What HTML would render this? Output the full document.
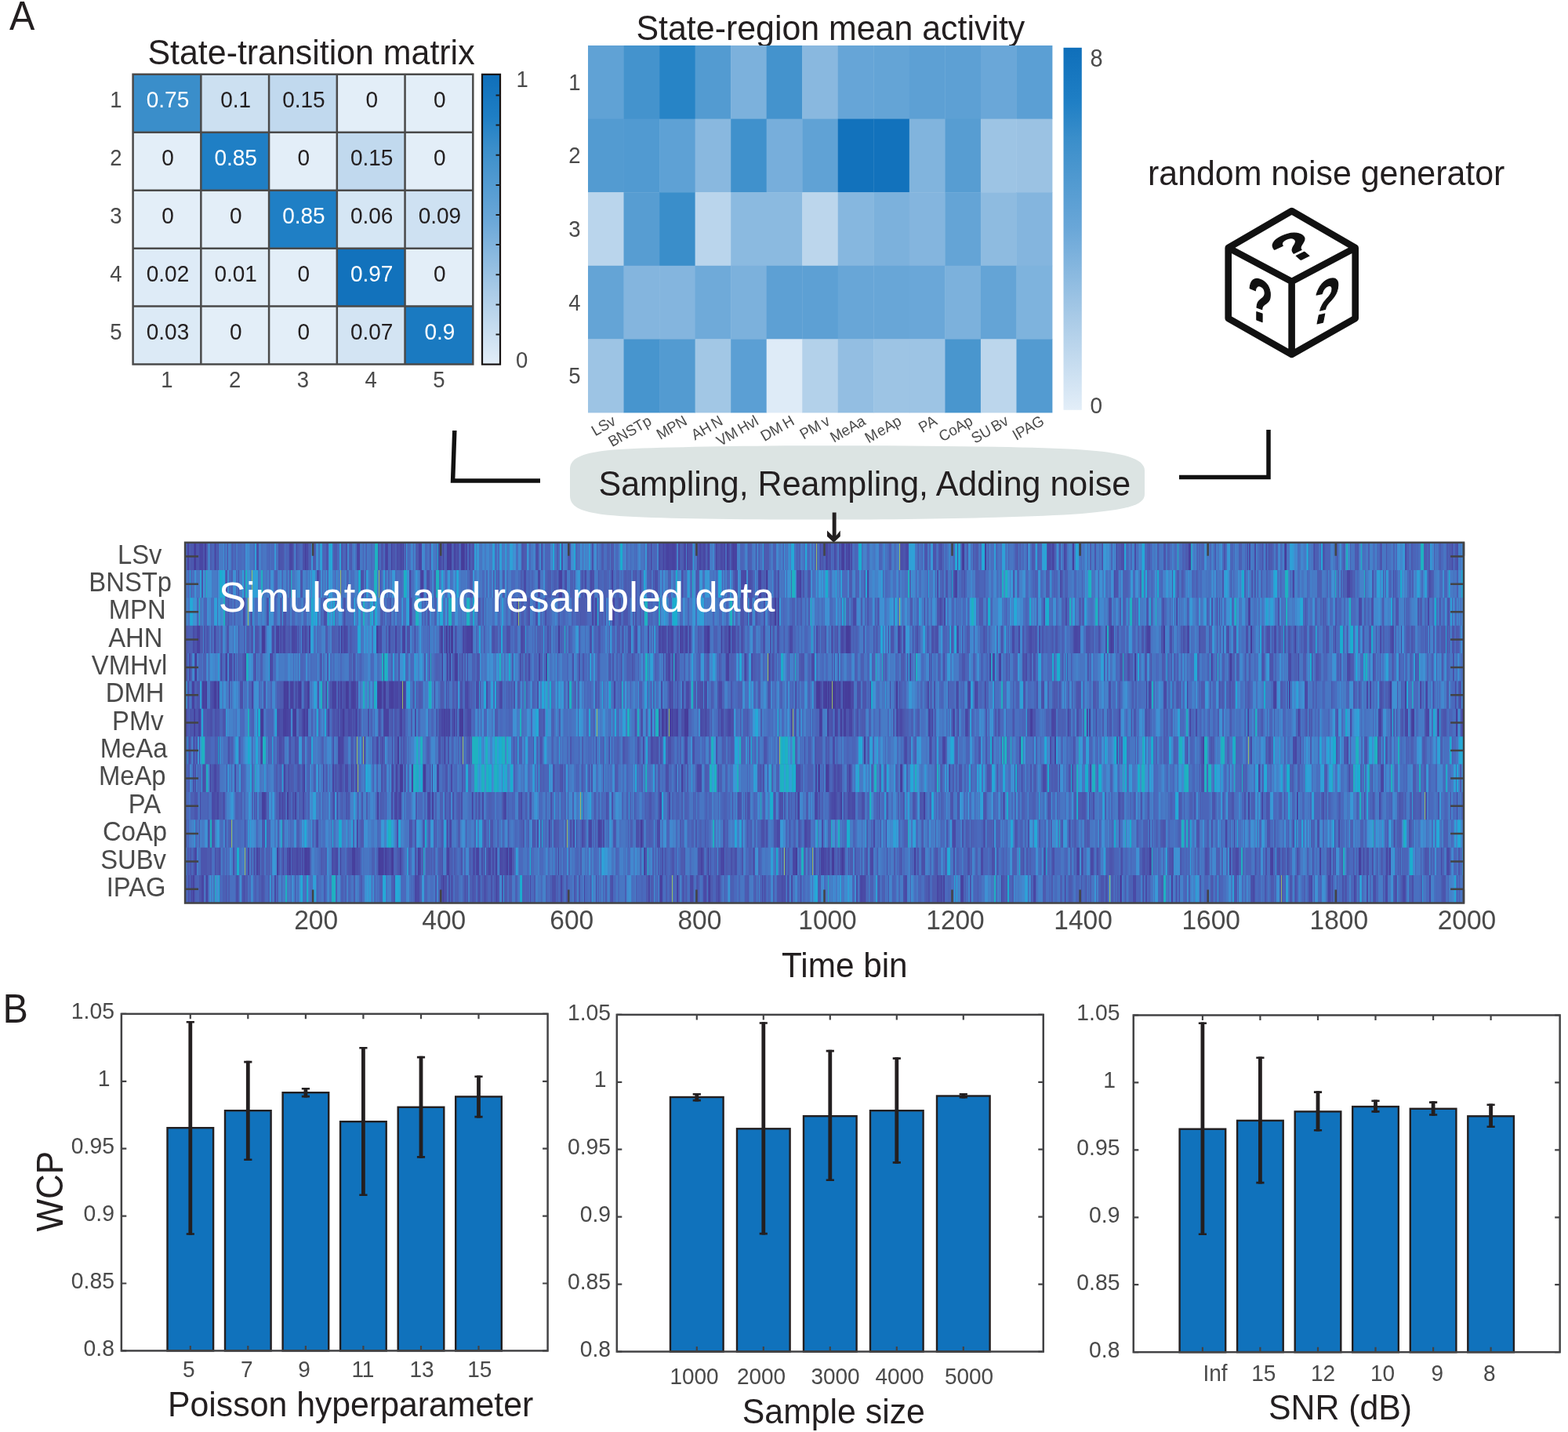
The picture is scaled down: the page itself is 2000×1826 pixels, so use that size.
<!DOCTYPE html>
<html><head><meta charset="utf-8"><title>Figure</title>
<style>html,body{margin:0;padding:0;background:#fff;width:2000px;height:1826px;overflow:hidden}svg{display:block}text{font-family:"Liberation Sans", Arial, Helvetica, sans-serif}</style>
</head><body>
<svg width="2000" height="1826" viewBox="0 0 2000 1826">
<rect width="2000" height="1826" fill="#fff"/>
<text font-size="48.5" fill="#231f20" text-anchor="start" transform="translate(12,37.8) scale(1,1.05)">A</text>
<text font-size="48.5" fill="#231f20" text-anchor="start" transform="translate(3.5,1304) scale(1,1.05)">B</text>
<text font-size="42.9" fill="#231f20" text-anchor="start" transform="translate(188.5,81.6) scale(1,1.05)">State-transition matrix</text>
<rect x="169.60" y="94.85" width="86.74" height="73.93" fill="#3a8eca"/>
<rect x="256.34" y="94.85" width="86.74" height="73.93" fill="#cce0f1"/>
<rect x="343.08" y="94.85" width="86.74" height="73.93" fill="#c1d9ee"/>
<rect x="429.82" y="94.85" width="86.74" height="73.93" fill="#e3eef8"/>
<rect x="516.56" y="94.85" width="86.74" height="73.93" fill="#e3eef8"/>
<rect x="169.60" y="168.78" width="86.74" height="73.93" fill="#e3eef8"/>
<rect x="256.34" y="168.78" width="86.74" height="73.93" fill="#1f7fc5"/>
<rect x="343.08" y="168.78" width="86.74" height="73.93" fill="#e3eef8"/>
<rect x="429.82" y="168.78" width="86.74" height="73.93" fill="#c1d9ee"/>
<rect x="516.56" y="168.78" width="86.74" height="73.93" fill="#e3eef8"/>
<rect x="169.60" y="242.71" width="86.74" height="73.93" fill="#e3eef8"/>
<rect x="256.34" y="242.71" width="86.74" height="73.93" fill="#e3eef8"/>
<rect x="343.08" y="242.71" width="86.74" height="73.93" fill="#1f7fc5"/>
<rect x="429.82" y="242.71" width="86.74" height="73.93" fill="#d5e6f4"/>
<rect x="516.56" y="242.71" width="86.74" height="73.93" fill="#cee1f2"/>
<rect x="169.60" y="316.64" width="86.74" height="73.93" fill="#deebf7"/>
<rect x="256.34" y="316.64" width="86.74" height="73.93" fill="#e1edf7"/>
<rect x="343.08" y="316.64" width="86.74" height="73.93" fill="#e3eef8"/>
<rect x="429.82" y="316.64" width="86.74" height="73.93" fill="#1272bc"/>
<rect x="516.56" y="316.64" width="86.74" height="73.93" fill="#e3eef8"/>
<rect x="169.60" y="390.57" width="86.74" height="73.93" fill="#dceaf6"/>
<rect x="256.34" y="390.57" width="86.74" height="73.93" fill="#e3eef8"/>
<rect x="343.08" y="390.57" width="86.74" height="73.93" fill="#e3eef8"/>
<rect x="429.82" y="390.57" width="86.74" height="73.93" fill="#d3e4f3"/>
<rect x="516.56" y="390.57" width="86.74" height="73.93" fill="#1a7ac1"/>
<text font-size="28" fill="#ffffff" text-anchor="middle" transform="translate(214.0,137.1) scale(1,1.05)">0.75</text>
<text font-size="28" fill="#231f20" text-anchor="middle" transform="translate(300.7,137.1) scale(1,1.05)">0.1</text>
<text font-size="28" fill="#231f20" text-anchor="middle" transform="translate(387.4,137.1) scale(1,1.05)">0.15</text>
<text font-size="28" fill="#231f20" text-anchor="middle" transform="translate(474.2,137.1) scale(1,1.05)">0</text>
<text font-size="28" fill="#231f20" text-anchor="middle" transform="translate(560.9,137.1) scale(1,1.05)">0</text>
<text font-size="28" fill="#231f20" text-anchor="middle" transform="translate(214.0,211.0) scale(1,1.05)">0</text>
<text font-size="28" fill="#ffffff" text-anchor="middle" transform="translate(300.7,211.0) scale(1,1.05)">0.85</text>
<text font-size="28" fill="#231f20" text-anchor="middle" transform="translate(387.4,211.0) scale(1,1.05)">0</text>
<text font-size="28" fill="#231f20" text-anchor="middle" transform="translate(474.2,211.0) scale(1,1.05)">0.15</text>
<text font-size="28" fill="#231f20" text-anchor="middle" transform="translate(560.9,211.0) scale(1,1.05)">0</text>
<text font-size="28" fill="#231f20" text-anchor="middle" transform="translate(214.0,285.0) scale(1,1.05)">0</text>
<text font-size="28" fill="#231f20" text-anchor="middle" transform="translate(300.7,285.0) scale(1,1.05)">0</text>
<text font-size="28" fill="#ffffff" text-anchor="middle" transform="translate(387.4,285.0) scale(1,1.05)">0.85</text>
<text font-size="28" fill="#231f20" text-anchor="middle" transform="translate(474.2,285.0) scale(1,1.05)">0.06</text>
<text font-size="28" fill="#231f20" text-anchor="middle" transform="translate(560.9,285.0) scale(1,1.05)">0.09</text>
<text font-size="28" fill="#231f20" text-anchor="middle" transform="translate(214.0,358.9) scale(1,1.05)">0.02</text>
<text font-size="28" fill="#231f20" text-anchor="middle" transform="translate(300.7,358.9) scale(1,1.05)">0.01</text>
<text font-size="28" fill="#231f20" text-anchor="middle" transform="translate(387.4,358.9) scale(1,1.05)">0</text>
<text font-size="28" fill="#ffffff" text-anchor="middle" transform="translate(474.2,358.9) scale(1,1.05)">0.97</text>
<text font-size="28" fill="#231f20" text-anchor="middle" transform="translate(560.9,358.9) scale(1,1.05)">0</text>
<text font-size="28" fill="#231f20" text-anchor="middle" transform="translate(214.0,432.8) scale(1,1.05)">0.03</text>
<text font-size="28" fill="#231f20" text-anchor="middle" transform="translate(300.7,432.8) scale(1,1.05)">0</text>
<text font-size="28" fill="#231f20" text-anchor="middle" transform="translate(387.4,432.8) scale(1,1.05)">0</text>
<text font-size="28" fill="#231f20" text-anchor="middle" transform="translate(474.2,432.8) scale(1,1.05)">0.07</text>
<text font-size="28" fill="#ffffff" text-anchor="middle" transform="translate(560.9,432.8) scale(1,1.05)">0.9</text>
<path d="M169.60 94.85V464.5M169.6 94.85H603.3M256.34 94.85V464.5M169.6 168.78H603.3M343.08 94.85V464.5M169.6 242.71H603.3M429.82 94.85V464.5M169.6 316.64H603.3M516.56 94.85V464.5M169.6 390.57H603.3M603.30 94.85V464.5M169.6 464.50H603.3" stroke="#4a4a4a" stroke-width="2.5" fill="none" stroke-linecap="square"/>
<text font-size="27.5" fill="#4a4a4a" text-anchor="middle" transform="translate(213.0,493.5) scale(1,1.05)">1</text>
<text font-size="27.5" fill="#4a4a4a" text-anchor="middle" transform="translate(148,136.8) scale(1,1.05)">1</text>
<text font-size="27.5" fill="#4a4a4a" text-anchor="middle" transform="translate(299.7,493.5) scale(1,1.05)">2</text>
<text font-size="27.5" fill="#4a4a4a" text-anchor="middle" transform="translate(148,210.7) scale(1,1.05)">2</text>
<text font-size="27.5" fill="#4a4a4a" text-anchor="middle" transform="translate(386.4,493.5) scale(1,1.05)">3</text>
<text font-size="27.5" fill="#4a4a4a" text-anchor="middle" transform="translate(148,284.7) scale(1,1.05)">3</text>
<text font-size="27.5" fill="#4a4a4a" text-anchor="middle" transform="translate(473.2,493.5) scale(1,1.05)">4</text>
<text font-size="27.5" fill="#4a4a4a" text-anchor="middle" transform="translate(148,358.6) scale(1,1.05)">4</text>
<text font-size="27.5" fill="#4a4a4a" text-anchor="middle" transform="translate(559.9,493.5) scale(1,1.05)">5</text>
<text font-size="27.5" fill="#4a4a4a" text-anchor="middle" transform="translate(148,432.5) scale(1,1.05)">5</text>
<defs><linearGradient id="cb" x1="0" y1="1" x2="0" y2="0"><stop offset="0.0" stop-color="#e3eef8"/><stop offset="0.25" stop-color="#aacbe7"/><stop offset="0.5" stop-color="#6aa7d8"/><stop offset="0.75" stop-color="#3a8eca"/><stop offset="0.85" stop-color="#1f7fc5"/><stop offset="1.0" stop-color="#0f6fba"/></linearGradient></defs>
<rect x="615" y="94.85" width="23" height="369.75" fill="url(#cb)" stroke="#161212" stroke-width="2.2"/>
<path d="M632.5 426.5H638M632.5 388.4H638M632.5 350.2H638M632.5 312.1H638M632.5 274.0H638M632.5 235.9H638M632.5 197.8H638M632.5 159.6H638M632.5 121.5H638" stroke="#1e1e1e" stroke-width="2"/>
<text font-size="27.5" fill="#4a4a4a" text-anchor="start" transform="translate(658.5,111) scale(1,1.05)">1</text>
<text font-size="27.5" fill="#4a4a4a" text-anchor="start" transform="translate(658,469) scale(1,1.05)">0</text>
<text font-size="42.9" fill="#231f20" text-anchor="start" transform="translate(811.5,50.6) scale(1,1.05)">State-region mean activity</text>
<rect x="750.00" y="58.00" width="45.94" height="94.00" fill="#60a2d5"/>
<rect x="795.54" y="58.00" width="45.94" height="94.00" fill="#4493cd"/>
<rect x="841.08" y="58.00" width="45.94" height="94.00" fill="#2784c6"/>
<rect x="886.62" y="58.00" width="45.94" height="94.00" fill="#539bd1"/>
<rect x="932.15" y="58.00" width="45.94" height="94.00" fill="#7cb1dc"/>
<rect x="977.69" y="58.00" width="45.94" height="94.00" fill="#4493cd"/>
<rect x="1023.23" y="58.00" width="45.94" height="94.00" fill="#89b8df"/>
<rect x="1068.77" y="58.00" width="45.94" height="94.00" fill="#66a5d7"/>
<rect x="1114.31" y="58.00" width="45.94" height="94.00" fill="#64a4d6"/>
<rect x="1159.85" y="58.00" width="45.94" height="94.00" fill="#5da0d4"/>
<rect x="1205.38" y="58.00" width="45.94" height="94.00" fill="#5da0d4"/>
<rect x="1250.92" y="58.00" width="45.94" height="94.00" fill="#6aa7d8"/>
<rect x="1296.46" y="58.00" width="45.94" height="94.00" fill="#5b9fd4"/>
<rect x="750.00" y="151.60" width="45.94" height="94.00" fill="#539bd1"/>
<rect x="795.54" y="151.60" width="45.94" height="94.00" fill="#519ad1"/>
<rect x="841.08" y="151.60" width="45.94" height="94.00" fill="#5ea1d5"/>
<rect x="886.62" y="151.60" width="45.94" height="94.00" fill="#89b8df"/>
<rect x="932.15" y="151.60" width="45.94" height="94.00" fill="#4091cc"/>
<rect x="977.69" y="151.60" width="45.94" height="94.00" fill="#77aedb"/>
<rect x="1023.23" y="151.60" width="45.94" height="94.00" fill="#60a2d5"/>
<rect x="1068.77" y="151.60" width="45.94" height="94.00" fill="#1272bc"/>
<rect x="1114.31" y="151.60" width="45.94" height="94.00" fill="#1272bc"/>
<rect x="1159.85" y="151.60" width="45.94" height="94.00" fill="#81b4dd"/>
<rect x="1205.38" y="151.60" width="45.94" height="94.00" fill="#579dd2"/>
<rect x="1250.92" y="151.60" width="45.94" height="94.00" fill="#9dc4e4"/>
<rect x="1296.46" y="151.60" width="45.94" height="94.00" fill="#9bc2e3"/>
<rect x="750.00" y="245.20" width="45.94" height="94.00" fill="#bad5ec"/>
<rect x="795.54" y="245.20" width="45.94" height="94.00" fill="#579dd2"/>
<rect x="841.08" y="245.20" width="45.94" height="94.00" fill="#3a8eca"/>
<rect x="886.62" y="245.20" width="45.94" height="94.00" fill="#bad5ec"/>
<rect x="932.15" y="245.20" width="45.94" height="94.00" fill="#8bbae0"/>
<rect x="977.69" y="245.20" width="45.94" height="94.00" fill="#8bbae0"/>
<rect x="1023.23" y="245.20" width="45.94" height="94.00" fill="#bcd6ec"/>
<rect x="1068.77" y="245.20" width="45.94" height="94.00" fill="#86b7df"/>
<rect x="1114.31" y="245.20" width="45.94" height="94.00" fill="#7cb1dc"/>
<rect x="1159.85" y="245.20" width="45.94" height="94.00" fill="#84b5de"/>
<rect x="1205.38" y="245.20" width="45.94" height="94.00" fill="#64a4d6"/>
<rect x="1250.92" y="245.20" width="45.94" height="94.00" fill="#8ebbe0"/>
<rect x="1296.46" y="245.20" width="45.94" height="94.00" fill="#84b5de"/>
<rect x="750.00" y="338.80" width="45.94" height="94.00" fill="#64a4d6"/>
<rect x="795.54" y="338.80" width="45.94" height="94.00" fill="#84b5de"/>
<rect x="841.08" y="338.80" width="45.94" height="94.00" fill="#84b5de"/>
<rect x="886.62" y="338.80" width="45.94" height="94.00" fill="#6faad9"/>
<rect x="932.15" y="338.80" width="45.94" height="94.00" fill="#7cb1dc"/>
<rect x="977.69" y="338.80" width="45.94" height="94.00" fill="#5da0d4"/>
<rect x="1023.23" y="338.80" width="45.94" height="94.00" fill="#5da0d4"/>
<rect x="1068.77" y="338.80" width="45.94" height="94.00" fill="#68a6d7"/>
<rect x="1114.31" y="338.80" width="45.94" height="94.00" fill="#68a6d7"/>
<rect x="1159.85" y="338.80" width="45.94" height="94.00" fill="#6aa7d8"/>
<rect x="1205.38" y="338.80" width="45.94" height="94.00" fill="#7cb1dc"/>
<rect x="1250.92" y="338.80" width="45.94" height="94.00" fill="#64a4d6"/>
<rect x="1296.46" y="338.80" width="45.94" height="94.00" fill="#7eb3dd"/>
<rect x="750.00" y="432.40" width="45.94" height="94.00" fill="#9dc4e4"/>
<rect x="795.54" y="432.40" width="45.94" height="94.00" fill="#4795ce"/>
<rect x="841.08" y="432.40" width="45.94" height="94.00" fill="#539bd1"/>
<rect x="886.62" y="432.40" width="45.94" height="94.00" fill="#a2c7e5"/>
<rect x="932.15" y="432.40" width="45.94" height="94.00" fill="#5b9fd4"/>
<rect x="977.69" y="432.40" width="45.94" height="94.00" fill="#deebf7"/>
<rect x="1023.23" y="432.40" width="45.94" height="94.00" fill="#b3d1ea"/>
<rect x="1068.77" y="432.40" width="45.94" height="94.00" fill="#93bee2"/>
<rect x="1114.31" y="432.40" width="45.94" height="94.00" fill="#9dc4e4"/>
<rect x="1159.85" y="432.40" width="45.94" height="94.00" fill="#9dc4e4"/>
<rect x="1205.38" y="432.40" width="45.94" height="94.00" fill="#4996ce"/>
<rect x="1250.92" y="432.40" width="45.94" height="94.00" fill="#bcd6ec"/>
<rect x="1296.46" y="432.40" width="45.94" height="94.00" fill="#539bd1"/>
<text font-size="27.5" fill="#4a4a4a" text-anchor="middle" transform="translate(733,114.8) scale(1,1.05)">1</text>
<text font-size="27.5" fill="#4a4a4a" text-anchor="middle" transform="translate(733,208.4) scale(1,1.05)">2</text>
<text font-size="27.5" fill="#4a4a4a" text-anchor="middle" transform="translate(733,302.0) scale(1,1.05)">3</text>
<text font-size="27.5" fill="#4a4a4a" text-anchor="middle" transform="translate(733,395.6) scale(1,1.05)">4</text>
<text font-size="27.5" fill="#4a4a4a" text-anchor="middle" transform="translate(733,489.2) scale(1,1.05)">5</text>
<rect x="1356.5" y="60.8" width="23.3" height="462" fill="url(#cb)"/>
<text font-size="29" fill="#4a4a4a" text-anchor="start" transform="translate(1390.5,85.3) scale(1,1.05)">8</text>
<text font-size="28" fill="#4a4a4a" text-anchor="start" transform="translate(1390.5,527.3) scale(1,1.05)">0</text>
<text x="0" y="0" font-size="18.5" fill="#4a4a4a" text-anchor="end" transform="translate(786.8,540.5) rotate(-30) scale(1,1.05)">LSv</text>
<text x="0" y="0" font-size="18.5" fill="#4a4a4a" text-anchor="end" transform="translate(832.3,540.5) rotate(-30) scale(1,1.05)">BNSTp</text>
<text x="0" y="0" font-size="18.5" fill="#4a4a4a" text-anchor="end" transform="translate(877.8,540.5) rotate(-30) scale(1,1.05)">MPN</text>
<text x="0" y="0" font-size="18.5" fill="#4a4a4a" text-anchor="end" transform="translate(923.4,540.5) rotate(-30) scale(1,1.05)">AH<tspan dx="3.5">N</tspan></text>
<text x="0" y="0" font-size="18.5" fill="#4a4a4a" text-anchor="end" transform="translate(968.9,540.5) rotate(-30) scale(1,1.05)">VM<tspan dx="3.5">Hvl</tspan></text>
<text x="0" y="0" font-size="18.5" fill="#4a4a4a" text-anchor="end" transform="translate(1014.5,540.5) rotate(-30) scale(1,1.05)">DM<tspan dx="3.5">H</tspan></text>
<text x="0" y="0" font-size="18.5" fill="#4a4a4a" text-anchor="end" transform="translate(1060.0,540.5) rotate(-30) scale(1,1.05)">PM<tspan dx="3.5">v</tspan></text>
<text x="0" y="0" font-size="18.5" fill="#4a4a4a" text-anchor="end" transform="translate(1105.5,540.5) rotate(-30) scale(1,1.05)">MeAa</text>
<text x="0" y="0" font-size="18.5" fill="#4a4a4a" text-anchor="end" transform="translate(1151.1,540.5) rotate(-30) scale(1,1.05)">M<tspan dx="1.5">eAp</tspan></text>
<text x="0" y="0" font-size="18.5" fill="#4a4a4a" text-anchor="end" transform="translate(1196.6,540.5) rotate(-30) scale(1,1.05)">PA</text>
<text x="0" y="0" font-size="18.5" fill="#4a4a4a" text-anchor="end" transform="translate(1242.2,540.5) rotate(-30) scale(1,1.05)">CoAp</text>
<text x="0" y="0" font-size="18.5" fill="#4a4a4a" text-anchor="end" transform="translate(1287.7,540.5) rotate(-30) scale(1,1.05)">SU<tspan dx="3.5">Bv</tspan></text>
<text x="0" y="0" font-size="18.5" fill="#4a4a4a" text-anchor="end" transform="translate(1333.2,540.5) rotate(-30) scale(1,1.05)">IPAG</text>
<text font-size="42.9" fill="#231f20" text-anchor="start" transform="translate(1464,236) scale(1,1.05)">random noise generator</text>
<path d="M1647.6 269L1566.7 316V406L1647.6 452L1728.7 406V316Z M1566.7 316L1647.6 359L1728.7 316 M1647.6 359V452" stroke="#111" stroke-width="8.6" fill="none" stroke-linejoin="round"/>
<text style="font-family:'Liberation Sans',Arial,sans-serif;font-weight:bold" fill="#111" stroke="#111" stroke-linejoin="round" text-anchor="middle" stroke-width="1.6" font-size="76" transform="translate(1607.5,409.5) skewY(20) scale(0.68,1)">?</text>
<text style="font-family:'Liberation Sans',Arial,sans-serif;font-weight:bold" fill="#111" stroke="#111" stroke-linejoin="round" text-anchor="middle" stroke-width="1.6" font-size="76" transform="translate(1685,411.5) skewY(-14) skewX(-12) scale(0.7,1)">?</text>
<text style="font-family:'Liberation Sans',Arial,sans-serif;font-weight:bold" fill="#111" stroke="#111" stroke-linejoin="round" text-anchor="middle" stroke-width="1.5" font-size="62" transform="matrix(1.15,-0.55,0.72,0.62,1666,328)">?</text>
<path d="M579.8 549L577.6 613H689" stroke="#111" stroke-width="5.5" fill="none"/>
<path d="M1618 548V608.6H1504" stroke="#111" stroke-width="5.5" fill="none"/>
<path d="M727 615V598C727 582,748 576,790 573C900 567,1250 566,1380 573.5C1430 577,1460 584,1460 600V630C1460 645,1435 650,1380 655C1250 664,900 665,790 658C750 655,727 650,727 632Z" fill="#dce4e3"/>
<text font-size="43" fill="#231f20" text-anchor="start" transform="translate(763.5,632) scale(1,1.05)">Sampling, Reampling, Adding noise</text>
<path d="M1061.7 653.5H1066.6V683L1071.8 676.4V684L1063.4 691.8L1055 684V676.4L1061.7 683Z" fill="#231f20"/>
<g fill="none"><rect x="236.06" y="691.8" width="1631.0" height="459.7" fill="#4c5eb3"/>
<path d="M236.06 709.48h1631.0" stroke="#463c9a" stroke-width="35.66" stroke-dasharray="0 3 1 9 1 139 1 109 1 14 1 55 2 2 2 12 4 321 1 313 3 26 2 110 2 269 2 1641"/>
<path d="M236.06 709.48h1631.0" stroke="#473f9d" stroke-width="35.66" stroke-dasharray="0 11 2 12 2 230 1 17 1 47 1 5 1 6 2 266 1 86 2 5 2 137 4 5 2 340 1 91 3 1641"/>
<path d="M236.06 709.48h1631.0" stroke="#4842a0" stroke-width="35.66" stroke-dasharray="0 4 1 34 1 303 2 3 1 7 1 257 3 4 4 32 1 42 4 113 1 288 2 1641"/>
<path d="M236.06 709.48h1631.0" stroke="#4946a3" stroke-width="35.66" stroke-dasharray="0 19 4 110 3 83 4 32 2 13 1 27 4 56 2 120 1 128 2 2 1 3 4 8 2 6 2 1 2 11 1 2 1 4 2 4 2 18 2 129 2 23 2 5 1 223 1 46 2 232 1 1 2 257 1 1641"/>
<path d="M236.06 709.48h1631.0" stroke="#4a4aa6" stroke-width="35.66" stroke-dasharray="0 18 1 117 1 5 1 11 3 101 1 65 3 35 2 261 2 9 1 26 1 19 3 7 2 33 1 81 1 17 2 89 4 41 1 20 1 114 4 107 2 151 2 36 1 37 1 37 1 77 2 1641"/>
<path d="M236.06 709.48h1631.0" stroke="#4b50a9" stroke-width="35.66" stroke-dasharray="0 37 2 52 3 25 2 16 1 12 3 52 2 39 1 3 1 20 4 1 2 67 3 99 4 3 2 63 2 73 2 9 3 3 2 30 4 8 1 2 3 5 1 11 2 16 2 123 3 10 2 9 1 66 4 38 1 149 1 3 1 85 4 116 1 59 1 3 2 2 1 68 1 170 2 1641"/>
<path d="M236.06 709.48h1631.0" stroke="#4c55ad" stroke-width="35.66" stroke-dasharray="0 8 2 4 4 5 2 7 1 8 2 78 4 55 3 16 2 50 2 11 4 98 3 60 3 49 1 6 4 150 1 11 1 25 3 3 1 126 1 35 1 66 3 24 4 8 3 3 3 135 1 5 1 9 2 6 2 35 2 7 2 77 3 74 2 125 2 42 1 27 3 5 1 77 1 9 2 1641"/>
<path d="M236.06 709.48h1631.0" stroke="#4d5bb0" stroke-width="35.66" stroke-dasharray="0 5 3 19 2 31 1 64 2 11 1 18 1 5 4 23 4 17 2 67 2 12 4 14 2 13 2 13 1 14 1 74 4 38 2 49 1 5 3 9 4 16 1 25 3 16 1 22 1 2 2 82 1 19 7 35 1 28 1 1 2 7 1 9 2 16 1 49 3 96 2 6 2 1 4 12 1 34 4 17 4 70 1 35 4 35 2 9 2 34 4 14 1 88 4 46 1 5 1 52 4 68 2 14 4 2 2 5 1 7 1 7 1 2 4 1641"/>
<path d="M236.06 709.48h1631.0" stroke="#4c60b4" stroke-width="35.66" stroke-dasharray="0 10 1 22 1 19 2 9 1 67 1 10 3 12 3 48 2 20 1 36 2 60 2 1 1 6 2 22 2 172 4 90 2 30 2 53 4 9 1 17 4 29 2 18 2 1 1 7 2 20 1 4 2 62 1 29 1 29 3 82 1 13 2 21 2 20 2 44 1 51 1 19 2 24 3 16 2 70 4 43 3 47 5 23 2 15 1 22 2 31 1 15 3 38 2 1641"/>
<path d="M236.06 709.48h1631.0" stroke="#4b65b9" stroke-width="35.66" stroke-dasharray="0 0 3 31 2 23 1 47 1 20 4 9 1 33 5 8 2 11 4 22 1 19 2 10 4 22 1 46 1 16 3 87 2 18 7 32 2 75 1 16 2 3 5 73 2 31 4 50 2 61 3 26 4 27 4 51 1 8 2 29 2 7 2 43 2 53 4 53 1 4 1 29 2 18 2 71 2 14 2 4 4 12 1 20 4 31 1 1 4 13 2 59 1 5 7 6 2 72 1 24 4 2 1 11 2 25 1 5 2 1641"/>
<path d="M236.06 709.48h1631.0" stroke="#4a6abd" stroke-width="35.66" stroke-dasharray="0 36 1 3 1 9 2 9 3 3 5 3 2 11 1 15 3 3 4 32 4 44 3 33 1 6 2 14 2 36 1 14 3 12 1 38 2 33 3 2 1 55 1 19 2 71 4 15 1 4 1 95 1 19 2 4 1 16 2 17 1 14 1 34 2 11 3 2 2 6 1 8 1 46 1 6 3 24 1 36 1 35 2 1 1 33 1 6 2 41 2 9 2 119 1 13 1 20 3 4 3 28 2 43 2 14 2 2 2 9 1 13 3 25 2 15 2 76 3 42 4 20 2 15 1 1 1 6 2 30 3 14 1 1641"/>
<path d="M236.06 709.48h1631.0" stroke="#4970c0" stroke-width="35.66" stroke-dasharray="0 72 3 12 1 9 2 9 2 6 3 51 2 45 2 22 1 7 1 29 1 3 2 1 2 23 1 87 1 22 3 46 3 26 4 25 2 3 4 47 2 130 1 15 3 9 1 31 3 9 2 33 1 26 3 36 1 4 2 41 2 18 2 9 1 24 3 5 1 25 4 4 1 3 2 24 2 4 2 4 2 34 1 4 2 10 1 10 3 21 2 19 1 12 1 4 2 7 2 26 1 13 3 10 3 20 2 19 1 61 2 42 3 43 1 36 4 9 3 15 5 35 3 32 1 17 1 3 1 1641"/>
<path d="M236.06 709.48h1631.0" stroke="#4876c3" stroke-width="35.66" stroke-dasharray="0 83 4 12 5 23 1 85 2 8 1 1 2 7 3 2 2 68 2 7 3 54 4 63 1 8 2 64 2 7 3 35 3 2 4 1 1 1 2 3 4 11 1 50 1 1 4 70 1 33 4 4 4 39 1 23 2 24 1 20 1 13 2 11 2 24 2 2 2 22 1 18 1 23 2 7 2 8 2 13 3 6 3 2 6 68 2 13 2 71 1 5 1 15 2 6 4 5 1 11 2 1 2 34 3 11 2 18 1 10 4 10 1 6 1 29 1 5 4 13 1 5 1 6 4 7 2 39 5 36 4 63 4 6 3 1641"/>
<path d="M236.06 709.48h1631.0" stroke="#477bc6" stroke-width="35.66" stroke-dasharray="0 43 1 1 4 9 1 6 2 72 2 87 2 2 2 82 1 65 2 4 4 12 4 2 4 72 2 18 3 33 1 4 2 18 1 103 2 51 4 8 1 10 3 37 2 4 1 70 1 4 1 7 2 10 1 2 1 8 4 3 3 20 1 15 2 19 1 3 1 2 4 46 3 35 1 6 2 12 1 26 1 22 2 20 4 2 4 50 1 20 1 9 1 3 1 8 2 24 3 6 1 10 1 34 3 16 1 2 1 25 2 80 2 6 2 16 2 7 3 29 3 21 1 31 1 1641"/>
<path d="M236.06 709.48h1631.0" stroke="#4582ca" stroke-width="35.66" stroke-dasharray="0 29 3 12 1 10 3 24 1 11 3 118 2 7 1 65 1 1 1 24 1 53 1 66 1 2 1 1 3 11 2 9 1 15 2 24 5 38 2 3 5 64 2 10 1 64 4 6 2 13 2 38 1 1 2 12 2 14 2 62 4 4 4 3 1 60 2 174 2 8 4 37 1 10 2 4 2 17 1 4 2 27 2 69 3 3 2 22 2 15 1 2 1 1 1 4 2 32 2 24 2 1 1 31 4 1 1 34 1 9 4 3 2 7 1 96 1 3 2 1641"/>
<path d="M236.06 709.48h1631.0" stroke="#4289cf" stroke-width="35.66" stroke-dasharray="0 79 3 125 2 79 2 3 1 8 4 73 3 2 4 10 1 28 2 17 1 19 2 14 2 8 1 28 2 55 3 21 2 66 1 2 2 41 1 37 3 40 2 82 4 164 1 95 1 1 4 1 2 29 2 32 2 15 1 24 1 29 1 29 2 73 3 18 4 4 3 8 1 48 3 57 1 6 3 37 3 32 1 1 1 1641"/>
<path d="M236.06 709.48h1631.0" stroke="#3f91d3" stroke-width="35.66" stroke-dasharray="0 49 1 2 1 24 2 88 3 238 1 9 4 3 2 66 3 8 2 17 2 236 1 237 3 73 3 34 2 61 4 29 1 75 2 14 3 18 2 54 1 95 2 24 1 46 4 1641"/>
<path d="M236.06 709.48h1631.0" stroke="#3999d6" stroke-width="35.66" stroke-dasharray="0 114 2 45 2 20 1 98 1 31 2 56 3 61 2 15 1 55 1 77 2 175 1 126 1 59 3 20 1 196 4 154 4 80 2 15 1 122 3 32 1 1641"/>
<path d="M236.06 709.48h1631.0" stroke="#2fa1d7" stroke-width="35.66" stroke-dasharray="0 89 2 81 3 22 2 170 2 21 3 6 3 10 4 97 2 131 1 88 1 32 1 152 8 101 2 8 4 39 2 6 4 41 2 80 1 188 4 176 1 1641"/>
<path d="M236.06 709.48h1631.0" stroke="#25a9d7" stroke-width="35.66" stroke-dasharray="0 184 4 221 1 59 2 7 2 16 2 275 4 14 2 189 3 1 3 27 4 77 2 37 2 60 2 21 3 207 2 16 2 1641"/>
<path d="M236.06 709.48h1631.0" stroke="#1baecf" stroke-width="35.66" stroke-dasharray="0 322 1 232 3 301 4 1641"/>
<path d="M236.06 709.48h1631.0" stroke="#1fb2c1" stroke-width="35.66" stroke-dasharray="0 242 4 1020 1 16 1 197 2 17 1 75 4 1641"/>
<path d="M236.06 709.48h1631.0" stroke="#9cc066" stroke-width="35.66" stroke-dasharray="0 805 1 105 1 1641"/>
<path d="M236.06 744.84h1631.0" stroke="#463c9a" stroke-width="35.66" stroke-dasharray="0 741 2 1641"/>
<path d="M236.06 744.84h1631.0" stroke="#4842a0" stroke-width="35.66" stroke-dasharray="0 300 4 173 4 63 2 185 4 49 2 84 2 109 4 1641"/>
<path d="M236.06 744.84h1631.0" stroke="#4946a3" stroke-width="35.66" stroke-dasharray="0 168 1 117 2 162 3 299 1 432 1 227 2 67 4 1641"/>
<path d="M236.06 744.84h1631.0" stroke="#4a4aa6" stroke-width="35.66" stroke-dasharray="0 169 2 261 3 51 1 19 1 3 2 5 2 190 7 64 4 175 2 155 2 423 1 1641"/>
<path d="M236.06 744.84h1631.0" stroke="#4b50a9" stroke-width="35.66" stroke-dasharray="0 21 2 45 1 155 4 80 4 159 1 4 1 7 2 33 3 53 1 4 2 15 1 1 4 30 2 66 4 13 4 34 2 236 1 520 1 12 1 57 3 1641"/>
<path d="M236.06 744.84h1631.0" stroke="#4c55ad" stroke-width="35.66" stroke-dasharray="0 52 2 93 3 56 1 23 1 169 1 4 1 63 1 57 1 40 1 83 2 45 1 22 2 14 1 49 2 4 4 92 1 79 3 4 1 78 2 128 4 69 1 63 2 9 1 25 2 2 2 111 1 8 3 25 1 29 1 17 1 1641"/>
<path d="M236.06 744.84h1631.0" stroke="#4d5bb0" stroke-width="35.66" stroke-dasharray="0 133 2 183 2 43 4 61 2 33 4 49 1 43 3 3 1 4 4 18 2 40 1 18 2 80 1 110 3 248 4 16 2 145 3 3 2 198 1 117 2 1641"/>
<path d="M236.06 744.84h1631.0" stroke="#4c60b4" stroke-width="35.66" stroke-dasharray="0 7 1 43 1 7 2 54 3 130 3 142 2 11 2 53 2 9 3 16 4 1 2 9 3 24 4 12 4 2 1 6 3 23 1 1 2 23 4 80 1 34 1 3 2 2 1 106 1 4 2 9 2 56 2 11 1 19 1 5 1 1 3 11 2 9 4 14 5 6 2 41 1 21 4 20 1 13 4 39 1 30 6 16 2 7 1 45 1 15 3 59 2 14 1 4 2 5 2 16 1 46 6 24 2 2 4 7 4 43 2 27 2 24 2 29 2 1641"/>
<path d="M236.06 744.84h1631.0" stroke="#4b65b9" stroke-width="35.66" stroke-dasharray="0 65 1 57 2 46 2 2 1 5 2 16 1 7 2 50 2 43 1 19 1 59 2 10 4 30 2 6 2 2 2 15 2 43 2 22 4 6 3 1 2 2 1 20 1 22 1 7 1 52 1 33 1 2 1 2 4 29 3 10 1 15 2 12 1 5 1 12 2 47 1 21 3 136 1 16 6 44 1 17 2 26 4 21 3 7 1 45 1 11 2 42 1 37 4 124 1 43 2 84 2 62 4 1641"/>
<path d="M236.06 744.84h1631.0" stroke="#4a6abd" stroke-width="35.66" stroke-dasharray="0 4 2 50 3 16 2 30 2 4 2 14 2 27 1 33 1 18 1 43 2 11 2 4 3 11 2 22 3 2 1 14 2 26 3 16 3 8 1 19 2 4 5 4 3 7 3 43 3 48 2 24 2 16 4 2 1 20 3 18 1 12 3 4 3 30 2 71 2 3 1 66 3 13 7 49 2 14 2 35 1 16 1 22 3 5 1 65 1 10 4 7 1 7 3 8 1 3 2 101 3 16 2 2 3 9 2 28 2 19 2 9 1 1 1 6 2 65 1 26 1 21 2 28 1 32 2 9 2 11 1 12 1 13 2 12 3 15 2 5 2 14 4 1641"/>
<path d="M236.06 744.84h1631.0" stroke="#4970c0" stroke-width="35.66" stroke-dasharray="0 8 4 29 1 24 2 25 2 117 4 21 4 29 4 17 1 46 2 5 1 42 2 50 2 2 2 21 2 1 1 4 1 19 1 16 4 31 3 33 2 23 2 50 3 11 1 22 1 66 1 25 4 6 4 58 4 27 1 2 4 3 4 11 4 10 2 12 1 74 4 3 3 4 3 1 2 38 2 24 1 14 2 52 3 2 2 23 2 36 2 19 2 5 1 21 3 37 2 2 3 19 1 9 2 4 1 8 2 8 2 3 1 11 1 8 3 11 2 24 2 8 2 25 2 40 1 24 2 1641"/>
<path d="M236.06 744.84h1631.0" stroke="#4876c3" stroke-width="35.66" stroke-dasharray="0 2 2 11 4 6 1 73 1 3 2 32 3 14 3 21 2 10 2 8 4 16 1 7 2 6 1 14 2 9 2 13 2 11 1 49 2 10 6 11 2 4 3 43 4 28 4 69 1 27 2 39 2 25 2 12 1 32 5 5 1 48 3 14 4 11 4 43 1 64 1 19 1 21 4 26 2 3 5 19 4 8 2 54 1 52 2 30 4 9 3 1 1 1 3 9 4 62 2 5 2 3 2 31 2 18 1 13 4 12 2 33 3 6 2 11 4 2 1 17 4 21 3 27 2 52 1 7 2 12 1 4 1 3 2 8 1 67 5 1641"/>
<path d="M236.06 744.84h1631.0" stroke="#477bc6" stroke-width="35.66" stroke-dasharray="0 0 2 12 1 19 7 28 4 27 3 63 1 21 2 4 4 36 2 9 2 51 2 25 2 4 1 2 1 16 1 6 2 11 1 6 1 33 4 30 4 37 3 32 4 15 1 27 2 41 4 59 2 81 2 44 1 130 2 1 2 2 2 24 2 27 5 2 4 44 1 24 2 34 2 15 2 1 1 3 2 3 1 13 1 13 2 5 2 5 1 7 2 22 2 21 1 41 1 15 5 18 3 16 4 42 3 7 2 14 1 25 7 6 4 12 1 1 1 7 1 42 1 27 2 44 3 18 3 1641"/>
<path d="M236.06 744.84h1631.0" stroke="#4582ca" stroke-width="35.66" stroke-dasharray="0 83 2 10 2 8 2 11 4 3 4 2 2 3 1 3 3 7 4 22 2 26 2 3 2 5 4 37 2 33 2 12 2 41 2 31 2 20 1 85 1 66 1 67 1 2 1 11 1 45 2 1 2 7 1 45 1 34 1 26 1 7 2 4 2 9 4 16 4 18 4 3 4 17 2 9 2 17 1 8 2 14 1 4 2 62 3 30 1 5 4 28 2 5 1 11 1 16 1 31 1 82 4 25 4 27 1 3 2 4 1 17 1 9 2 12 1 47 2 6 4 3 2 3 4 4 2 56 1 4 6 51 4 10 2 4 2 19 4 10 2 1641"/>
<path d="M236.06 744.84h1631.0" stroke="#4289cf" stroke-width="35.66" stroke-dasharray="0 26 1 133 2 5 1 93 1 34 2 7 1 9 2 12 2 41 3 11 2 3 2 8 3 94 2 120 2 7 4 74 2 102 1 13 2 1 2 15 2 31 2 11 1 8 1 6 3 17 4 27 1 43 2 27 4 3 1 5 2 30 1 72 3 39 1 62 3 25 2 73 1 12 2 86 1 13 2 33 1 1 2 13 2 3 1 4 1 17 1 14 2 10 2 43 4 1641"/>
<path d="M236.06 744.84h1631.0" stroke="#3f91d3" stroke-width="35.66" stroke-dasharray="0 12 2 14 6 8 2 10 2 5 4 14 2 28 4 30 4 10 1 15 2 58 1 49 3 56 3 63 2 47 2 128 2 17 2 2 2 36 3 33 1 20 2 9 2 9 1 21 1 15 2 1 4 26 2 27 1 32 2 15 1 6 4 46 1 19 2 112 4 89 3 2 4 11 3 10 2 16 4 21 2 19 1 50 2 2 2 15 2 11 2 21 1 95 4 45 3 39 2 49 2 7 1 1641"/>
<path d="M236.06 744.84h1631.0" stroke="#3999d6" stroke-width="35.66" stroke-dasharray="0 23 2 56 2 39 1 57 1 4 3 5 1 70 4 26 2 39 3 29 2 131 4 138 2 12 4 3 6 26 2 108 1 2 3 1 2 2 1 109 1 122 3 1 3 3 2 27 3 57 1 23 2 32 3 42 3 26 1 44 1 21 1 8 1 1641"/>
<path d="M236.06 744.84h1631.0" stroke="#2fa1d7" stroke-width="35.66" stroke-dasharray="0 19 2 52 2 11 7 66 1 2 4 17 2 46 2 20 2 523 1 57 2 50 2 214 1 152 1 68 4 58 1 131 4 2 2 4 2 37 4 6 3 45 2 1641"/>
<path d="M236.06 744.84h1631.0" stroke="#25a9d7" stroke-width="35.66" stroke-dasharray="0 6 1 40 4 276 2 17 3 46 1 189 2 54 1 38 4 146 1 37 2 78 1 276 2 33 3 87 1 38 4 1641"/>
<path d="M236.06 744.84h1631.0" stroke="#1baecf" stroke-width="35.66" stroke-dasharray="0 44 3 174 3 57 2 343 2 189 3 158 1 242 2 17 2 106 2 200 2 60 1 15 1 1641"/>
<path d="M236.06 744.84h1631.0" stroke="#1fb2c1" stroke-width="35.66" stroke-dasharray="0 27 1 49 2 18 2 36 1 105 4 34 2 39 4 323 1 124 1 1 4 144 2 118 2 2 3 103 4 64 1 182 4 60 1 36 1 1641"/>
<path d="M236.06 744.84h1631.0" stroke="#9cc066" stroke-width="35.66" stroke-dasharray="0 85 1 112 1 48 1 1641"/>
<path d="M236.06 780.20h1631.0" stroke="#463c9a" stroke-width="35.66" stroke-dasharray="0 545 1 206 2 1641"/>
<path d="M236.06 780.20h1631.0" stroke="#473f9d" stroke-width="35.66" stroke-dasharray="0 756 1 1641"/>
<path d="M236.06 780.20h1631.0" stroke="#4842a0" stroke-width="35.66" stroke-dasharray="0 1247 1 108 3 1641"/>
<path d="M236.06 780.20h1631.0" stroke="#4946a3" stroke-width="35.66" stroke-dasharray="0 74 1 211 3 230 2 2 2 21 2 169 1 250 2 349 1 265 2 1641"/>
<path d="M236.06 780.20h1631.0" stroke="#4a4aa6" stroke-width="35.66" stroke-dasharray="0 423 2 296 2 34 1 94 4 107 2 158 2 139 2 231 4 1641"/>
<path d="M236.06 780.20h1631.0" stroke="#4b50a9" stroke-width="35.66" stroke-dasharray="0 75 2 27 3 70 4 21 2 98 1 126 1 8 2 7 3 9 2 75 1 17 2 18 2 162 2 7 1 347 2 81 4 127 2 83 2 117 3 24 1 1641"/>
<path d="M236.06 780.20h1631.0" stroke="#4c55ad" stroke-width="35.66" stroke-dasharray="0 55 1 27 3 39 4 85 1 47 1 46 3 61 1 102 1 27 1 54 6 144 4 15 2 16 1 3 2 118 2 11 2 19 1 42 1 11 4 263 3 200 1 21 1 15 2 75 4 24 2 36 3 1641"/>
<path d="M236.06 780.20h1631.0" stroke="#4d5bb0" stroke-width="35.66" stroke-dasharray="0 63 1 105 1 34 1 44 3 2 1 6 1 27 1 84 3 6 1 32 3 17 2 39 1 27 6 17 2 1 2 19 2 17 2 7 2 2 1 10 1 112 1 39 2 35 2 8 2 65 2 61 3 14 2 21 2 46 5 122 3 1 3 18 1 26 2 4 1 63 1 15 1 24 1 200 2 21 2 26 1 19 3 23 1 1641"/>
<path d="M236.06 780.20h1631.0" stroke="#4c60b4" stroke-width="35.66" stroke-dasharray="0 121 3 49 1 78 1 22 1 30 1 11 3 58 2 49 3 60 2 4 5 7 2 12 1 193 2 6 1 17 1 8 2 18 4 2 2 9 1 48 1 4 2 33 2 101 1 38 2 24 1 37 2 23 1 6 3 75 2 17 1 16 2 14 2 65 3 123 3 4 2 2 4 53 1 90 1 15 1 13 1 1641"/>
<path d="M236.06 780.20h1631.0" stroke="#4b65b9" stroke-width="35.66" stroke-dasharray="0 15 2 7 4 13 1 9 4 4 1 53 4 15 2 2 4 11 4 36 1 65 4 120 1 44 2 6 2 17 2 6 4 17 3 36 2 12 1 12 4 13 3 22 4 8 2 2 1 10 4 20 2 30 2 15 3 9 1 10 4 13 4 109 2 5 2 15 2 64 3 42 3 17 2 12 1 15 2 42 3 46 2 2 3 7 1 72 1 3 1 32 2 9 1 22 2 23 2 16 1 12 3 65 1 22 3 1 1 41 3 4 1 77 5 19 2 9 1 27 2 1641"/>
<path d="M236.06 780.20h1631.0" stroke="#4a6abd" stroke-width="35.66" stroke-dasharray="0 56 3 3 1 66 3 42 3 29 7 27 1 25 2 2 4 30 2 1 1 91 3 7 3 3 1 3 4 34 2 6 2 13 2 13 4 14 6 11 1 2 2 4 1 2 2 12 3 17 4 20 2 29 4 16 2 28 4 18 2 38 2 15 1 1 3 6 3 8 3 27 1 10 3 23 1 22 4 64 1 26 1 24 4 13 2 34 3 45 2 11 1 92 2 8 3 38 2 16 1 21 3 32 2 104 2 27 4 5 3 6 1 8 6 98 1 4 2 1 1 4 3 1641"/>
<path d="M236.06 780.20h1631.0" stroke="#4970c0" stroke-width="35.66" stroke-dasharray="0 33 4 30 4 18 4 51 4 52 2 3 1 35 1 11 1 24 4 47 3 2 2 4 4 8 1 12 2 10 2 13 3 49 3 20 1 10 2 5 4 93 2 10 1 1 4 98 2 34 4 27 3 39 2 6 1 6 1 13 2 18 1 28 1 38 1 26 2 19 2 11 5 60 2 17 3 3 2 25 4 6 2 41 3 28 1 26 2 19 1 71 1 7 1 12 1 25 3 7 4 2 2 19 4 4 3 33 4 69 2 1 2 62 1 8 2 1641"/>
<path d="M236.06 780.20h1631.0" stroke="#4876c3" stroke-width="35.66" stroke-dasharray="0 4 2 13 2 2 1 36 2 2 3 10 2 23 2 36 1 2 1 69 1 5 2 3 2 48 1 15 4 20 4 110 1 26 2 17 2 68 1 40 1 76 2 97 1 25 4 1 1 10 4 6 2 11 4 39 1 6 1 15 3 14 2 3 2 14 1 53 1 42 1 14 3 47 1 59 3 3 1 17 2 6 2 4 2 10 3 54 1 10 2 23 2 47 4 4 1 20 2 26 2 41 4 8 2 24 2 9 4 9 1 34 2 19 2 23 4 18 1 3 1 9 2 1 2 1641"/>
<path d="M236.06 780.20h1631.0" stroke="#477bc6" stroke-width="35.66" stroke-dasharray="0 21 1 49 3 23 2 18 2 22 2 12 1 1 3 28 1 3 4 30 1 6 3 19 2 6 3 37 1 20 1 23 4 2 1 2 2 4 2 6 1 14 6 6 1 7 3 3 3 18 1 8 2 24 4 17 4 34 1 110 3 2 4 18 8 2 1 2 3 6 3 3 1 29 2 43 3 7 2 13 2 14 3 20 2 13 2 33 1 33 2 3 2 8 2 11 3 30 1 3 1 9 1 8 1 10 1 6 4 34 1 26 1 52 4 3 1 28 2 44 5 1 1 27 4 1 2 7 1 5 2 14 2 7 2 14 1 7 1 38 3 12 1 30 2 4 4 34 1 24 3 23 3 8 1 12 2 2 1 49 2 21 2 1641"/>
<path d="M236.06 780.20h1631.0" stroke="#4582ca" stroke-width="35.66" stroke-dasharray="0 0 4 13 1 63 2 4 2 6 2 3 2 32 2 12 3 66 2 28 2 59 1 46 2 12 1 14 2 16 2 36 2 126 3 2 1 39 1 1 2 59 2 27 3 153 1 2 3 12 1 16 1 31 2 18 3 6 2 31 1 39 7 17 1 24 2 33 4 12 2 18 2 7 1 4 1 9 2 7 1 56 3 26 1 6 2 7 3 32 1 20 1 25 2 7 1 31 4 68 2 52 4 5 1 4 7 1 1 7 4 10 1 40 1 8 2 1641"/>
<path d="M236.06 780.20h1631.0" stroke="#4289cf" stroke-width="35.66" stroke-dasharray="0 22 1 7 3 12 2 46 2 24 2 35 1 3 1 9 3 56 4 12 2 21 2 42 2 39 1 16 1 24 3 74 2 63 2 1 1 87 3 6 1 26 1 20 2 39 1 13 3 91 2 21 4 34 1 1 2 24 1 50 3 19 2 51 1 15 4 12 2 1 2 74 1 5 6 10 1 4 3 33 1 11 3 1 1 3 2 22 1 6 2 35 2 46 1 11 1 45 1 15 1 24 2 4 3 49 5 9 4 34 4 26 1 18 2 6 1 1641"/>
<path d="M236.06 780.20h1631.0" stroke="#3f91d3" stroke-width="35.66" stroke-dasharray="0 10 5 13 2 17 2 30 1 19 1 8 5 68 1 2 2 11 3 144 4 24 1 9 1 224 4 24 2 57 1 6 1 95 1 1 4 13 6 20 1 34 2 7 6 16 1 9 3 17 2 1 1 11 4 13 2 10 1 72 1 5 4 23 4 15 4 114 1 3 2 29 2 1 1 59 2 3 4 16 4 30 2 4 2 6 2 18 1 1 4 16 3 43 1 36 4 68 1 13 2 13 1 1641"/>
<path d="M236.06 780.20h1631.0" stroke="#3999d6" stroke-width="35.66" stroke-dasharray="0 42 2 80 1 71 1 40 1 38 2 20 4 19 3 8 2 116 3 194 4 2 3 44 1 24 1 32 2 70 2 68 4 1 1 6 2 123 5 10 2 140 2 85 4 8 2 4 4 4 2 9 1 13 1 9 2 28 1 4 2 1641"/>
<path d="M236.06 780.20h1631.0" stroke="#2fa1d7" stroke-width="35.66" stroke-dasharray="0 37 4 3 1 41 1 20 1 55 3 17 1 2 2 27 2 4 3 58 4 118 2 205 2 1 1 6 1 34 6 56 1 180 1 36 2 68 3 88 1 34 3 12 3 51 1 136 1 41 2 2 4 226 2 1641"/>
<path d="M236.06 780.20h1631.0" stroke="#25a9d7" stroke-width="35.66" stroke-dasharray="0 6 4 156 3 69 2 3 2 80 4 212 1 296 2 66 2 93 2 54 4 155 2 115 2 87 4 112 2 1641"/>
<path d="M236.06 780.20h1631.0" stroke="#1baecf" stroke-width="35.66" stroke-dasharray="0 161 2 26 2 176 2 157 1 95 6 396 3 50 2 19 4 129 1 147 1 214 2 1641"/>
<path d="M236.06 780.20h1631.0" stroke="#1fb2c1" stroke-width="35.66" stroke-dasharray="0 18 1 30 2 131 1 44 2 7 1 5 1 51 4 38 4 19 4 223 4 14 2 89 3 100 1 42 1 161 3 122 2 31 3 41 3 30 1 100 2 63 2 79 2 1641"/>
<path d="M236.06 780.20h1631.0" stroke="#9cc066" stroke-width="35.66" stroke-dasharray="0 80 1 344 1 485 1 1641"/>
<path d="M236.06 815.57h1631.0" stroke="#463c9a" stroke-width="35.66" stroke-dasharray="0 98 4 94 1 2 1 44 2 87 2 4 3 23 2 109 2 188 3 15 1 8 3 147 4 401 2 109 2 55 1 1641"/>
<path d="M236.06 815.57h1631.0" stroke="#473f9d" stroke-width="35.66" stroke-dasharray="0 119 1 38 2 168 1 7 2 509 2 331 3 1641"/>
<path d="M236.06 815.57h1631.0" stroke="#4842a0" stroke-width="35.66" stroke-dasharray="0 15 4 97 3 34 1 114 2 7 4 45 2 31 6 266 2 6 2 2 2 264 3 315 4 93 1 226 1 1641"/>
<path d="M236.06 815.57h1631.0" stroke="#4946a3" stroke-width="35.66" stroke-dasharray="0 10 1 13 1 12 2 86 3 8 4 60 1 1 3 55 2 92 2 248 3 1 3 5 2 1 4 10 3 26 4 34 1 70 1 66 2 57 1 19 1 145 2 69 4 45 2 93 3 186 1 71 3 1641"/>
<path d="M236.06 815.57h1631.0" stroke="#4a4aa6" stroke-width="35.66" stroke-dasharray="0 28 1 82 2 8 2 17 3 1 1 4 2 54 2 39 1 2 2 93 1 12 2 69 4 144 1 13 2 19 3 23 2 58 3 72 3 30 2 29 2 78 1 11 1 18 1 37 2 68 3 20 2 9 2 47 4 32 2 213 3 132 2 1641"/>
<path d="M236.06 815.57h1631.0" stroke="#4b50a9" stroke-width="35.66" stroke-dasharray="0 11 2 17 1 37 1 44 1 40 2 91 2 34 4 6 1 62 1 36 2 15 4 48 2 52 3 46 4 4 3 5 1 106 4 9 2 6 3 25 3 6 2 7 3 66 3 5 1 100 2 17 3 2 4 13 1 9 1 56 2 33 2 6 1 48 1 31 2 11 2 45 2 18 1 10 3 14 2 18 2 33 4 21 3 24 4 12 1 5 2 3 2 128 2 1641"/>
<path d="M236.06 815.57h1631.0" stroke="#4c55ad" stroke-width="35.66" stroke-dasharray="0 13 2 38 3 28 3 2 4 30 2 7 2 17 2 54 1 2 1 48 1 64 2 4 3 12 2 44 2 21 1 17 2 93 3 27 2 48 1 10 1 8 3 75 2 109 2 22 3 22 2 11 1 21 4 8 2 4 1 72 1 14 1 11 3 1 1 45 2 10 3 2 2 6 2 11 1 3 3 36 5 4 1 30 2 29 3 23 2 22 1 35 1 9 1 3 1 16 4 45 1 27 2 11 4 3 4 17 3 24 1 19 2 6 3 6 1 44 2 16 1 1 1 2 1 4 1 16 1 6 3 1641"/>
<path d="M236.06 815.57h1631.0" stroke="#4d5bb0" stroke-width="35.66" stroke-dasharray="0 0 4 15 4 22 3 30 4 11 1 34 4 47 3 5 4 20 2 43 2 15 1 107 1 13 4 47 1 18 2 22 2 50 1 9 4 4 1 37 1 56 2 36 1 11 1 44 3 12 1 37 1 25 4 17 1 31 2 48 1 23 2 21 2 17 4 72 3 7 1 70 1 12 1 33 1 29 1 43 2 18 7 71 3 3 1 29 1 13 1 104 2 28 4 36 1 3 6 13 4 1641"/>
<path d="M236.06 815.57h1631.0" stroke="#4c60b4" stroke-width="35.66" stroke-dasharray="0 4 6 15 3 5 2 4 1 35 2 17 1 7 1 17 1 14 1 10 1 44 4 6 1 61 3 4 3 19 1 19 1 88 2 17 4 25 5 26 1 21 2 18 1 71 1 19 2 41 2 10 1 4 5 4 1 1 3 24 2 11 3 41 2 36 3 1 5 5 1 30 2 1 3 21 1 3 1 48 1 34 2 8 1 72 1 47 2 4 2 1 1 11 1 12 1 22 3 52 1 4 2 43 1 10 2 34 3 68 1 15 2 14 1 40 3 4 2 4 3 10 1 88 3 24 1 2 2 1 1 10 4 1641"/>
<path d="M236.06 815.57h1631.0" stroke="#4b65b9" stroke-width="35.66" stroke-dasharray="0 40 4 53 1 36 1 21 2 37 1 17 4 45 1 3 2 6 1 21 1 74 2 4 1 4 1 22 4 26 1 18 3 21 2 1 1 9 2 30 4 18 4 87 1 4 2 2 2 9 1 67 1 9 2 27 1 11 4 3 1 3 1 3 4 56 2 83 3 31 4 19 1 21 4 3 1 3 2 8 2 17 1 3 5 29 1 2 3 2 4 9 2 3 1 1 2 7 3 29 4 29 5 78 1 67 1 24 1 16 2 8 2 19 1 5 3 11 4 2 2 15 1 28 1 5 3 36 2 6 2 12 1 18 4 1641"/>
<path d="M236.06 815.57h1631.0" stroke="#4a6abd" stroke-width="35.66" stroke-dasharray="0 29 1 52 2 19 1 10 2 27 1 1 1 1 1 20 1 28 2 9 2 7 3 74 1 14 3 26 1 13 2 55 1 5 4 17 2 5 1 14 4 2 1 7 4 6 2 1 2 6 1 16 1 20 2 17 1 10 1 20 4 14 4 19 4 32 3 41 1 13 3 38 2 94 1 3 2 9 4 13 1 3 1 13 1 43 2 44 3 73 3 35 2 5 1 70 3 19 2 1 2 10 2 136 3 35 2 10 3 3 1 3 1 46 5 5 1 12 1 34 2 3 4 20 2 5 2 16 2 1 1 16 1 18 2 4 2 2 2 1641"/>
<path d="M236.06 815.57h1631.0" stroke="#4970c0" stroke-width="35.66" stroke-dasharray="0 35 2 24 1 7 5 36 1 53 3 2 4 65 2 11 5 33 3 11 6 5 1 20 1 12 4 35 1 11 2 69 1 33 1 25 1 2 3 26 1 1 1 85 4 25 4 24 2 27 1 23 3 2 4 10 3 12 3 83 1 3 2 7 1 35 2 13 3 19 1 13 1 62 2 2 3 2 2 37 1 24 2 7 4 17 3 10 2 7 2 21 3 8 2 13 3 35 1 9 2 1 2 13 4 46 1 13 4 41 2 11 2 15 1 31 1 28 1 20 1 17 2 6 1 41 4 25 1 1641"/>
<path d="M236.06 815.57h1631.0" stroke="#4876c3" stroke-width="35.66" stroke-dasharray="0 51 2 21 1 20 2 76 1 8 3 39 4 47 2 4 2 12 1 20 3 1 4 18 2 3 1 19 2 4 2 3 3 2 3 33 1 18 5 1 2 1 2 20 1 24 1 19 2 22 3 14 2 6 1 7 2 97 4 40 3 35 3 28 3 1 3 43 3 37 5 36 2 8 2 24 2 36 2 21 3 9 2 2 2 10 2 83 1 107 2 8 3 14 1 27 1 2 3 58 2 3 3 5 2 10 2 6 2 18 1 15 1 25 3 32 1 24 4 10 2 25 2 66 1 1641"/>
<path d="M236.06 815.57h1631.0" stroke="#477bc6" stroke-width="35.66" stroke-dasharray="0 31 2 225 1 38 2 2 2 121 4 43 1 15 1 7 3 7 4 2 3 6 2 22 1 42 3 40 1 65 1 31 1 2 3 6 5 52 2 4 2 5 1 11 2 3 1 32 5 29 1 10 2 19 2 10 3 46 1 99 1 82 4 25 2 12 2 19 4 29 1 34 4 7 3 1 3 99 1 11 3 15 2 54 1 9 4 1641"/>
<path d="M236.06 815.57h1631.0" stroke="#4582ca" stroke-width="35.66" stroke-dasharray="0 44 1 11 5 3 4 106 5 6 2 182 2 15 1 80 2 19 1 20 1 82 2 1 2 132 2 87 3 46 2 30 1 7 2 52 3 9 1 55 4 89 2 114 4 8 5 6 4 16 2 5 2 31 2 20 2 23 2 92 2 15 2 20 1 43 2 22 3 13 2 1 4 1641"/>
<path d="M236.06 815.57h1631.0" stroke="#4289cf" stroke-width="35.66" stroke-dasharray="0 23 1 24 3 53 2 42 1 81 2 1 3 51 2 26 1 3 1 9 1 58 3 145 2 11 1 10 1 16 4 5 1 133 2 23 1 54 2 93 2 96 1 7 5 1 4 40 1 13 3 20 1 53 4 39 1 137 1 8 1 1 3 9 1 19 2 174 1 6 2 43 2 18 1 1641"/>
<path d="M236.06 815.57h1631.0" stroke="#3f91d3" stroke-width="35.66" stroke-dasharray="0 62 2 13 1 9 2 17 4 57 1 430 1 48 3 72 2 24 1 241 1 215 2 117 3 115 1 40 2 6 2 5 2 51 3 72 2 1641"/>
<path d="M236.06 815.57h1631.0" stroke="#3999d6" stroke-width="35.66" stroke-dasharray="0 228 2 6 2 61 2 12 1 184 4 17 1 22 2 25 2 320 2 5 1 20 5 40 2 67 2 2 2 165 2 104 3 147 1 1641"/>
<path d="M236.06 815.57h1631.0" stroke="#2fa1d7" stroke-width="35.66" stroke-dasharray="0 160 4 68 1 7 4 190 1 22 1 483 3 101 2 294 2 1641"/>
<path d="M236.06 815.57h1631.0" stroke="#25a9d7" stroke-width="35.66" stroke-dasharray="0 220 4 151 2 26 2 194 1 287 3 85 2 4 3 387 2 121 2 112 1 1641"/>
<path d="M236.06 815.57h1631.0" stroke="#1baecf" stroke-width="35.66" stroke-dasharray="0 799 1 601 1 40 1 30 4 9 4 23 2 1641"/>
<path d="M236.06 815.57h1631.0" stroke="#1fb2c1" stroke-width="35.66" stroke-dasharray="0 484 1 691 2 1641"/>
<path d="M236.06 850.93h1631.0" stroke="#463c9a" stroke-width="35.66" stroke-dasharray="0 13 2 322 2 872 2 120 2 1641"/>
<path d="M236.06 850.93h1631.0" stroke="#473f9d" stroke-width="35.66" stroke-dasharray="0 344 4 79 1 1641"/>
<path d="M236.06 850.93h1631.0" stroke="#4842a0" stroke-width="35.66" stroke-dasharray="0 52 2 274 1 122 2 7 2 228 4 332 2 10 3 1641"/>
<path d="M236.06 850.93h1631.0" stroke="#4946a3" stroke-width="35.66" stroke-dasharray="0 334 2 24 1 255 3 6 2 87 2 208 2 104 3 387 1 16 1 1641"/>
<path d="M236.06 850.93h1631.0" stroke="#4a4aa6" stroke-width="35.66" stroke-dasharray="0 5 2 5 1 32 2 9 4 16 2 30 4 141 1 73 1 110 2 170 1 111 2 20 3 52 4 25 1 4 1 118 1 119 2 8 1 42 1 46 1 136 2 96 4 71 4 29 1 56 1 1641"/>
<path d="M236.06 850.93h1631.0" stroke="#4b50a9" stroke-width="35.66" stroke-dasharray="0 62 2 430 2 6 2 11 1 97 2 6 2 298 1 45 2 99 3 7 2 122 3 265 1 98 2 46 2 1641"/>
<path d="M236.06 850.93h1631.0" stroke="#4c55ad" stroke-width="35.66" stroke-dasharray="0 0 3 48 1 13 1 8 2 11 4 81 2 7 2 31 3 55 2 31 1 19 1 15 1 1 1 9 2 17 4 131 2 33 1 2 2 23 2 43 1 40 1 56 1 34 4 34 4 159 2 40 4 21 1 34 1 31 2 66 2 39 4 28 3 26 1 4 1 7 1 64 2 40 4 7 4 54 4 40 1 103 1 1641"/>
<path d="M236.06 850.93h1631.0" stroke="#4d5bb0" stroke-width="35.66" stroke-dasharray="0 30 1 42 1 232 1 26 1 22 2 59 2 14 3 22 1 67 3 11 2 14 2 15 1 53 4 6 1 27 4 12 2 41 3 56 3 50 1 56 2 18 5 13 1 115 2 22 1 5 1 41 1 10 1 45 1 69 4 11 2 28 1 16 1 32 3 13 2 24 1 42 4 43 2 12 4 25 2 21 3 6 2 46 1 6 2 1641"/>
<path d="M236.06 850.93h1631.0" stroke="#4c60b4" stroke-width="35.66" stroke-dasharray="0 7 2 14 4 40 3 26 3 75 1 1 1 32 4 7 1 3 1 87 1 7 4 18 1 6 4 13 4 58 4 21 3 94 2 11 5 10 1 20 2 95 4 16 1 10 2 2 3 19 2 41 1 57 3 5 4 10 4 80 4 41 3 50 4 56 1 86 4 21 4 58 2 29 3 9 4 13 2 61 4 27 3 69 1 44 2 44 1 1641"/>
<path d="M236.06 850.93h1631.0" stroke="#4b65b9" stroke-width="35.66" stroke-dasharray="0 47 2 21 3 19 1 51 1 2 4 71 2 38 3 16 3 27 1 2 1 3 2 116 2 7 4 38 1 66 2 12 2 2 1 28 2 33 1 5 2 10 2 6 2 19 2 1 1 1 2 4 2 4 3 3 1 10 2 10 2 6 2 55 2 29 2 30 1 12 3 17 2 14 2 79 4 4 5 22 2 32 2 16 3 15 3 28 1 30 2 41 5 102 3 8 1 28 1 19 1 25 2 19 4 4 1 32 5 97 1 2 2 3 1 21 2 24 3 1641"/>
<path d="M236.06 850.93h1631.0" stroke="#4a6abd" stroke-width="35.66" stroke-dasharray="0 18 4 38 2 50 4 22 1 12 3 6 1 24 2 2 1 8 2 17 1 19 4 19 1 6 1 16 1 3 4 32 1 45 2 68 2 24 1 7 1 13 1 11 1 8 4 48 1 22 1 18 2 14 2 31 2 24 3 75 3 9 4 25 2 6 3 4 3 2 3 24 1 1 4 58 3 28 1 1 1 27 1 45 1 1 2 5 1 24 2 34 3 12 6 2 2 10 1 10 1 55 4 26 2 16 1 2 4 12 4 5 3 4 2 2 1 3 1 4 4 24 2 38 1 36 1 82 2 26 4 21 2 24 4 2 1 16 1 17 2 29 1 1641"/>
<path d="M236.06 850.93h1631.0" stroke="#4970c0" stroke-width="35.66" stroke-dasharray="0 3 2 12 1 31 2 105 2 3 8 21 1 34 3 17 3 20 2 39 2 5 2 89 2 16 2 22 2 8 1 15 2 4 5 7 1 7 1 3 2 16 3 3 1 13 2 7 2 20 4 7 1 4 1 1 1 31 1 7 4 28 1 45 1 28 4 16 1 16 2 31 3 25 3 21 1 30 1 25 2 2 1 3 3 11 1 13 4 12 2 41 1 6 2 14 2 5 4 69 2 40 2 20 2 27 1 3 2 67 1 14 4 2 1 12 1 1 2 39 1 5 4 30 1 40 2 26 2 7 4 29 1 9 3 4 2 6 1 1 1 4 3 20 2 21 1 38 4 1641"/>
<path d="M236.06 850.93h1631.0" stroke="#4876c3" stroke-width="35.66" stroke-dasharray="0 93 3 31 4 39 2 5 2 8 2 6 3 2 3 56 1 27 1 48 1 2 2 17 2 2 4 12 1 3 3 11 1 74 2 13 1 26 2 3 3 9 7 10 3 9 2 1 1 34 2 12 2 18 1 25 1 89 1 31 2 43 1 6 2 12 1 20 4 25 2 45 3 6 1 13 2 9 2 30 2 4 1 65 2 14 4 32 1 8 7 2 1 2 1 6 4 9 1 17 1 44 2 4 4 4 2 27 3 19 2 10 2 7 1 3 3 20 2 4 2 3 4 13 2 10 1 2 4 25 5 4 2 6 1 10 3 5 2 2 2 60 1 12 1 34 1 30 1 2 1 7 4 3 2 1641"/>
<path d="M236.06 850.93h1631.0" stroke="#477bc6" stroke-width="35.66" stroke-dasharray="0 15 2 5 1 76 2 19 7 13 2 16 2 32 3 8 6 4 1 4 2 1 1 6 5 3 1 11 3 19 2 43 1 15 2 22 1 5 1 17 3 11 3 7 2 37 3 22 2 8 1 11 4 11 1 32 3 39 3 25 3 28 4 6 4 33 1 25 2 39 1 13 2 13 2 7 4 21 2 3 4 34 3 19 1 5 3 10 5 7 2 68 6 32 1 5 1 8 2 16 4 39 1 14 2 9 2 3 4 3 3 3 2 36 1 116 3 32 2 70 5 33 1 19 2 20 1 10 1 18 1 70 2 2 2 1 1 35 2 1641"/>
<path d="M236.06 850.93h1631.0" stroke="#4582ca" stroke-width="35.66" stroke-dasharray="0 38 4 22 1 1 1 34 2 16 1 14 4 4 2 47 1 69 1 35 2 4 2 21 1 2 2 17 1 61 3 2 2 4 4 31 2 6 2 3 2 7 3 17 2 86 1 18 2 37 2 41 1 46 3 18 1 17 3 64 4 60 2 23 2 27 2 20 1 21 3 36 2 23 2 68 3 25 4 14 2 26 1 8 2 1 2 43 3 5 3 61 2 57 1 7 1 26 2 56 1 27 1 10 1 7 1 20 3 37 2 1641"/>
<path d="M236.06 850.93h1631.0" stroke="#4289cf" stroke-width="35.66" stroke-dasharray="0 9 3 15 3 1 2 2 3 5 2 9 2 29 2 16 4 9 3 12 3 5 1 6 1 32 2 52 3 5 4 40 2 90 1 10 1 10 1 5 2 25 1 30 1 32 2 172 3 3 2 130 1 18 1 22 4 28 2 13 2 38 2 6 4 115 2 82 2 35 2 47 1 24 2 11 1 47 2 23 4 5 1 120 2 19 3 6 1 2 2 67 1 19 2 7 2 11 1 1641"/>
<path d="M236.06 850.93h1631.0" stroke="#3f91d3" stroke-width="35.66" stroke-dasharray="0 33 2 46 4 6 1 53 1 8 2 13 1 5 1 98 4 14 1 1 3 88 3 1 4 27 1 161 2 119 3 57 3 6 1 56 2 3 2 48 2 34 1 13 2 17 1 10 1 13 2 20 2 8 3 16 1 126 2 16 2 2 2 4 1 36 1 5 3 141 1 24 2 2 1 31 1 30 3 29 1 16 3 11 1 2 1 25 1 19 2 1 4 19 1 21 2 1641"/>
<path d="M236.06 850.93h1631.0" stroke="#3999d6" stroke-width="35.66" stroke-dasharray="0 183 2 114 4 4 2 67 1 20 2 1 1 8 1 63 1 47 2 35 1 99 4 7 1 49 3 151 3 96 4 86 2 209 1 95 2 8 4 83 2 77 3 45 3 12 1 1641"/>
<path d="M236.06 850.93h1631.0" stroke="#2fa1d7" stroke-width="35.66" stroke-dasharray="0 258 1 6 2 11 3 138 1 96 2 75 4 49 2 25 3 127 2 131 1 151 4 76 4 135 1 64 1 158 4 32 2 1641"/>
<path d="M236.06 850.93h1631.0" stroke="#25a9d7" stroke-width="35.66" stroke-dasharray="0 42 1 64 1 185 1 413 3 213 1 109 1 90 1 90 2 35 1 34 4 202 2 1641"/>
<path d="M236.06 850.93h1631.0" stroke="#1baecf" stroke-width="35.66" stroke-dasharray="0 80 1 332 2 176 1 168 2 344 2 4 4 319 2 66 2 1641"/>
<path d="M236.06 850.93h1631.0" stroke="#1fb2c1" stroke-width="35.66" stroke-dasharray="0 78 2 171 2 1 4 55 1 87 2 59 1 124 3 33 1 138 1 15 1 102 1 7 1 42 2 94 1 167 1 120 1 188 2 66 1 1641"/>
<path d="M236.06 850.93h1631.0" stroke="#9cc066" stroke-width="35.66" stroke-dasharray="0 743 1 1641"/>
<path d="M236.06 886.29h1631.0" stroke="#463c9a" stroke-width="35.66" stroke-dasharray="0 26 2 9 3 86 2 3 1 9 1 4 2 32 1 7 1 9 1 6 3 37 5 3 3 20 1 1 2 525 5 7 2 1 2 1 2 1 4 9 2 1 2 1 4 58 2 75 1 293 1 129 2 127 2 18 1 1641"/>
<path d="M236.06 886.29h1631.0" stroke="#473f9d" stroke-width="35.66" stroke-dasharray="0 22 3 17 2 84 3 25 3 40 1 13 3 34 1 11 4 548 3 17 2 8 1 381 1 329 1 1641"/>
<path d="M236.06 886.29h1631.0" stroke="#4842a0" stroke-width="35.66" stroke-dasharray="0 9 3 44 1 77 4 6 2 43 4 15 1 7 2 42 2 12 2 314 1 27 1 15 2 205 1 32 1 146 1 366 4 228 1 1641"/>
<path d="M236.06 886.29h1631.0" stroke="#4946a3" stroke-width="35.66" stroke-dasharray="0 25 1 59 2 108 2 14 2 55 4 46 1 41 1 186 2 283 2 65 1 47 2 49 4 227 3 275 2 2 2 62 2 6 2 1641"/>
<path d="M236.06 886.29h1631.0" stroke="#4a4aa6" stroke-width="35.66" stroke-dasharray="0 35 2 229 2 12 2 51 1 23 3 11 4 9 2 15 4 202 2 19 1 10 4 19 4 15 4 125 2 18 2 17 4 154 4 153 1 83 4 176 4 150 1 9 1 1641"/>
<path d="M236.06 886.29h1631.0" stroke="#4b50a9" stroke-width="35.66" stroke-dasharray="0 3 2 27 3 5 2 28 4 51 1 12 1 13 4 31 1 14 3 4 1 9 2 51 2 77 3 22 1 20 1 21 2 28 2 168 4 34 4 117 2 39 1 2 1 34 4 50 1 43 2 16 1 11 2 105 4 82 3 74 1 51 1 11 1 12 2 72 1 90 1 26 3 8 2 87 4 1641"/>
<path d="M236.06 886.29h1631.0" stroke="#4c55ad" stroke-width="35.66" stroke-dasharray="0 8 1 6 4 81 3 39 2 4 1 20 2 13 3 13 2 49 2 93 2 13 2 50 1 29 1 44 2 33 2 128 4 22 2 15 2 45 4 89 1 24 1 2 5 163 1 23 1 12 3 14 2 20 1 6 2 14 1 6 4 16 2 106 1 195 1 27 2 54 1 1641"/>
<path d="M236.06 886.29h1631.0" stroke="#4d5bb0" stroke-width="35.66" stroke-dasharray="0 121 4 93 1 37 4 31 2 5 4 24 4 11 2 81 3 100 2 68 2 17 2 25 2 5 2 19 2 58 3 78 2 92 1 104 1 7 2 79 2 7 4 23 2 4 1 17 3 28 2 16 1 49 2 3 2 30 4 20 1 1 2 11 4 16 3 39 3 11 1 115 2 22 1 57 3 1641"/>
<path d="M236.06 886.29h1631.0" stroke="#4c60b4" stroke-width="35.66" stroke-dasharray="0 12 3 6 1 95 4 11 2 5 2 34 2 20 1 92 1 44 2 27 3 1 1 30 2 14 3 12 1 4 2 60 2 2 2 52 2 22 4 66 1 55 6 49 1 14 1 20 1 5 3 32 2 73 3 30 2 3 3 12 1 27 1 29 2 35 4 42 2 18 2 79 2 3 2 53 4 22 1 6 1 23 2 2 4 20 2 84 2 2 2 54 2 23 1 7 4 1641"/>
<path d="M236.06 886.29h1631.0" stroke="#4b65b9" stroke-width="35.66" stroke-dasharray="0 6 1 74 4 24 2 40 1 41 2 15 1 84 3 4 2 21 1 17 3 17 1 45 4 31 3 28 1 7 2 10 2 12 1 7 1 7 2 40 1 56 3 46 2 10 3 37 3 30 2 1 1 5 2 13 2 10 2 75 3 31 1 11 3 18 2 22 1 11 7 32 3 67 3 59 2 42 2 41 1 78 4 19 1 23 2 40 4 47 3 9 2 16 4 7 3 57 4 65 1 1641"/>
<path d="M236.06 886.29h1631.0" stroke="#4a6abd" stroke-width="35.66" stroke-dasharray="0 59 1 34 2 64 1 17 2 114 1 35 1 3 1 15 1 3 3 10 1 1 1 16 3 4 2 11 2 24 1 34 1 45 4 21 1 6 2 5 3 37 4 19 1 11 1 1 3 5 2 9 1 49 2 2 3 44 1 2 2 17 4 5 1 5 4 79 2 38 2 4 2 26 2 18 2 1 2 15 1 5 4 23 1 26 5 27 4 34 2 39 2 27 4 6 2 10 1 10 3 16 2 20 1 14 3 4 2 13 2 25 1 38 2 24 2 17 1 59 2 33 1 14 2 12 2 36 6 4 4 10 1 1 1 3 1 1 1 16 4 2 1 1641"/>
<path d="M236.06 886.29h1631.0" stroke="#4970c0" stroke-width="35.66" stroke-dasharray="0 75 4 18 1 17 2 122 2 47 1 34 1 74 1 15 1 12 1 6 1 2 3 7 2 19 4 13 1 7 2 15 3 5 3 9 1 2 1 15 3 7 2 7 1 31 4 32 1 30 4 21 4 4 2 12 5 11 1 66 1 85 3 8 1 9 1 29 2 4 1 40 2 34 2 14 6 15 1 2 3 19 4 34 1 3 1 2 2 8 2 17 1 56 2 7 7 13 1 14 1 27 2 4 1 29 1 27 3 5 1 11 2 17 1 6 1 47 2 3 3 2 1 16 3 49 2 39 5 23 1 5 1 19 2 1641"/>
<path d="M236.06 886.29h1631.0" stroke="#4876c3" stroke-width="35.66" stroke-dasharray="0 5 1 22 4 36 2 17 1 8 1 8 4 40 2 32 1 39 2 9 2 88 1 12 4 67 1 9 1 81 1 33 1 8 2 18 3 3 2 3 4 5 1 27 4 135 2 10 3 88 4 5 2 17 2 6 4 94 2 16 2 5 1 9 1 29 2 48 4 12 1 13 2 13 1 15 1 8 1 8 2 12 1 18 2 11 2 23 2 7 2 18 1 9 2 15 3 28 1 9 1 24 2 2 7 49 4 6 1 3 2 4 8 33 2 6 4 2 1 3 2 85 2 27 2 1641"/>
<path d="M236.06 886.29h1631.0" stroke="#477bc6" stroke-width="35.66" stroke-dasharray="0 47 2 3 4 1 2 109 1 8 1 4 1 104 1 18 4 5 3 13 2 37 1 6 4 8 1 15 1 25 1 21 2 51 2 27 2 47 2 37 1 51 4 49 2 11 2 11 1 21 2 3 1 2 2 12 2 100 4 16 3 10 1 2 2 3 2 14 2 11 1 55 4 9 2 14 1 16 3 75 3 24 1 24 3 1 1 56 1 20 1 65 2 52 1 27 2 37 2 1 2 1 4 36 2 66 3 7 2 9 3 1641"/>
<path d="M236.06 886.29h1631.0" stroke="#4582ca" stroke-width="35.66" stroke-dasharray="0 0 1 44 1 14 2 12 1 23 2 61 3 67 1 57 1 15 1 13 4 163 2 20 1 62 2 36 2 21 2 54 4 42 4 148 3 6 4 32 2 16 1 3 2 4 3 6 2 24 4 66 1 91 2 7 4 4 4 60 2 1 2 4 2 38 2 17 2 35 2 28 2 47 1 54 1 24 2 7 1 28 1 7 4 22 2 48 1 1641"/>
<path d="M236.06 886.29h1631.0" stroke="#4289cf" stroke-width="35.66" stroke-dasharray="0 7 1 57 3 11 2 22 2 6 4 106 2 2 2 2 2 1 1 190 1 4 2 10 3 15 1 4 2 7 2 55 1 9 2 32 1 30 3 54 1 59 2 24 2 6 3 7 2 26 1 7 1 125 4 40 2 52 1 62 4 30 2 4 3 17 2 37 2 7 2 46 2 39 1 41 1 16 2 16 4 2 4 42 3 3 1 1 2 46 1 118 2 7 1 3 4 6 2 1641"/>
<path d="M236.06 886.29h1631.0" stroke="#3f91d3" stroke-width="35.66" stroke-dasharray="0 1 2 46 3 10 3 23 6 65 1 76 3 65 1 116 2 39 1 15 2 23 3 15 2 8 1 5 1 28 1 21 2 55 1 6 1 13 1 44 3 24 3 28 2 19 3 84 4 168 3 44 4 19 2 48 3 26 4 40 2 12 1 32 2 24 3 8 1 66 4 10 1 2 1 13 4 45 1 11 5 50 6 20 1 14 1 46 1 1641"/>
<path d="M236.06 886.29h1631.0" stroke="#3999d6" stroke-width="35.66" stroke-dasharray="0 282 1 27 1 3 1 33 2 101 2 27 3 16 1 61 2 15 1 144 2 198 4 121 1 94 2 126 1 3 3 23 4 107 2 107 2 1641"/>
<path d="M236.06 886.29h1631.0" stroke="#2fa1d7" stroke-width="35.66" stroke-dasharray="0 19 2 23 1 1 1 117 4 3 2 110 2 8 1 81 1 14 3 66 2 13 1 1 2 80 1 27 2 8 1 2 1 119 2 79 1 92 1 108 3 25 2 33 4 189 1 158 3 1641"/>
<path d="M236.06 886.29h1631.0" stroke="#25a9d7" stroke-width="35.66" stroke-dasharray="0 243 2 40 2 94 3 11 2 58 3 74 1 58 1 748 2 216 2 1641"/>
<path d="M236.06 886.29h1631.0" stroke="#1baecf" stroke-width="35.66" stroke-dasharray="0 465 2 74 2 332 2 499 2 1641"/>
<path d="M236.06 886.29h1631.0" stroke="#1fb2c1" stroke-width="35.66" stroke-dasharray="0 173 2 6 1 45 2 4 1 7 2 68 3 119 1 27 1 28 3 64 1 88 2 393 2 190 2 330 1 1641"/>
<path d="M236.06 886.29h1631.0" stroke="#9cc066" stroke-width="35.66" stroke-dasharray="0 277 1 547 1 1641"/>
<path d="M236.06 921.65h1631.0" stroke="#463c9a" stroke-width="35.66" stroke-dasharray="0 96 4 38 4 9 2 48 2 128 1 4 1 6 1 6 5 253 2 3 2 3 2 1 1 15 5 177 2 332 2 70 1 395 2 1641"/>
<path d="M236.06 921.65h1631.0" stroke="#473f9d" stroke-width="35.66" stroke-dasharray="0 11 2 112 4 26 2 164 1 342 1 144 3 17 2 5 2 2 3 235 3 483 4 1641"/>
<path d="M236.06 921.65h1631.0" stroke="#4842a0" stroke-width="35.66" stroke-dasharray="0 0 2 15 3 109 2 64 1 21 3 33 7 14 3 56 2 2 1 3 1 4 1 263 1 15 3 320 2 404 2 165 4 12 1 1641"/>
<path d="M236.06 921.65h1631.0" stroke="#4946a3" stroke-width="35.66" stroke-dasharray="0 131 3 3 1 44 2 24 2 5 1 18 1 13 1 78 4 363 2 82 1 68 4 56 3 38 1 3 2 25 3 4 1 8 3 107 4 41 2 129 2 203 1 69 4 23 4 10 3 1641"/>
<path d="M236.06 921.65h1631.0" stroke="#4a4aa6" stroke-width="35.66" stroke-dasharray="0 118 3 13 1 14 2 2 2 43 3 2 1 6 3 80 2 65 5 239 2 14 1 1 4 31 3 23 4 5 2 79 2 37 1 12 1 5 2 78 4 83 1 110 2 15 2 31 1 31 2 96 2 128 3 206 2 1641"/>
<path d="M236.06 921.65h1631.0" stroke="#4b50a9" stroke-width="35.66" stroke-dasharray="0 32 3 3 2 77 1 3 4 64 2 31 1 41 1 15 1 42 4 5 1 2 1 245 3 10 2 15 1 21 4 23 4 16 2 14 4 157 2 178 2 35 1 62 3 21 2 13 1 310 1 57 1 1641"/>
<path d="M236.06 921.65h1631.0" stroke="#4c55ad" stroke-width="35.66" stroke-dasharray="0 2 1 3 4 3 4 11 4 8 4 4 4 140 3 9 4 5 2 18 1 33 3 3 1 4 2 62 1 1 1 13 2 97 2 115 2 36 1 52 4 21 2 25 1 82 1 20 4 10 1 7 4 56 2 10 2 40 1 16 1 46 2 10 2 21 2 17 3 3 4 44 1 50 2 28 3 17 1 21 1 120 1 43 1 4 1 46 2 81 2 27 2 22 4 1641"/>
<path d="M236.06 921.65h1631.0" stroke="#4d5bb0" stroke-width="35.66" stroke-dasharray="0 3 2 5 1 13 4 117 4 38 2 2 1 4 2 18 1 4 1 1 2 21 2 14 2 24 2 59 1 6 2 37 4 52 3 23 2 22 1 86 2 25 2 54 1 17 1 44 2 102 2 11 2 2 2 6 5 49 2 15 3 47 2 13 2 124 1 44 2 35 1 18 4 18 2 56 1 10 2 14 2 39 1 14 1 39 3 1 2 1 2 7 1 21 2 72 2 7 2 51 2 1641"/>
<path d="M236.06 921.65h1631.0" stroke="#4c60b4" stroke-width="35.66" stroke-dasharray="0 23 1 11 3 48 2 73 2 17 1 3 1 53 1 10 1 10 2 8 3 4 1 176 3 10 4 41 1 8 2 164 2 19 2 3 4 62 1 3 2 76 2 9 3 10 2 23 1 8 4 3 3 96 1 13 1 7 1 7 1 42 4 11 4 1 4 6 1 49 2 9 2 15 1 50 3 63 2 201 2 1641"/>
<path d="M236.06 921.65h1631.0" stroke="#4b65b9" stroke-width="35.66" stroke-dasharray="0 5 1 38 4 36 2 19 8 53 1 3 2 9 1 54 2 59 3 10 2 3 2 3 1 17 3 4 1 22 1 8 1 3 4 28 4 24 2 163 2 21 4 9 4 57 1 7 2 5 2 85 4 19 1 103 2 17 1 3 2 20 2 24 2 63 4 30 3 12 1 4 2 8 3 5 4 1 2 37 5 43 1 17 2 1 1 15 1 13 4 7 2 15 3 18 1 18 2 15 2 1 2 7 1 2 4 13 4 31 1 22 2 77 1 63 2 9 4 11 1 1641"/>
<path d="M236.06 921.65h1631.0" stroke="#4a6abd" stroke-width="35.66" stroke-dasharray="0 70 6 6 1 9 1 7 1 2 2 136 1 8 1 14 2 14 3 29 2 50 3 1 1 32 3 4 4 4 1 95 2 2 4 29 4 19 1 95 2 7 2 2 1 61 2 3 1 11 3 12 2 9 1 9 2 4 2 21 2 5 2 24 2 17 2 16 2 25 3 45 2 17 4 11 2 24 2 2 2 3 4 20 4 17 4 77 2 9 1 22 2 29 1 38 5 24 2 3 2 121 2 12 2 32 2 23 1 17 1 35 2 6 2 6 3 17 2 17 2 5 1 9 1 1641"/>
<path d="M236.06 921.65h1631.0" stroke="#4970c0" stroke-width="35.66" stroke-dasharray="0 20 1 44 1 17 1 58 3 40 2 33 1 6 6 122 1 17 2 24 3 3 4 20 3 51 6 1 3 47 4 1 1 21 1 30 2 46 3 4 2 20 3 26 2 36 2 2 3 4 2 12 1 3 2 15 1 3 5 4 2 50 2 45 1 30 1 7 4 4 1 61 4 35 7 3 6 25 1 6 2 65 3 27 1 19 4 18 2 18 2 30 2 2 3 2 1 17 3 18 4 2 1 2 3 6 1 9 2 5 1 4 2 17 1 12 4 13 3 19 2 4 6 46 2 9 2 29 1 70 4 2 1 1641"/>
<path d="M236.06 921.65h1631.0" stroke="#4876c3" stroke-width="35.66" stroke-dasharray="0 172 2 77 2 64 3 27 2 42 2 39 4 35 2 2 2 16 4 49 2 14 2 5 4 3 1 129 2 12 4 14 4 15 2 121 5 2 1 17 2 36 2 9 1 11 2 15 1 10 1 25 1 69 1 2 3 15 2 55 2 12 2 14 1 9 2 13 2 8 2 2 1 6 4 6 1 6 1 45 4 16 1 14 2 13 4 44 2 31 3 2 2 5 2 36 1 17 5 23 3 74 1 1641"/>
<path d="M236.06 921.65h1631.0" stroke="#477bc6" stroke-width="35.66" stroke-dasharray="0 61 4 36 2 54 4 2 3 10 2 47 2 12 2 43 4 12 7 116 4 55 1 6 1 7 2 9 4 17 2 5 4 15 1 23 2 68 4 19 3 75 3 60 3 52 1 19 8 41 2 23 4 16 1 24 2 10 1 3 2 47 1 18 2 31 1 5 2 23 4 40 1 2 1 1 1 70 2 20 2 2 3 24 4 7 2 6 4 39 4 10 1 6 1 6 1 4 1 36 3 14 3 18 2 1 2 8 4 17 2 5 1 7 2 19 2 3 8 1641"/>
<path d="M236.06 921.65h1631.0" stroke="#4582ca" stroke-width="35.66" stroke-dasharray="0 56 5 15 4 155 1 55 2 3 1 15 1 9 1 55 1 8 4 135 2 3 2 23 2 29 1 114 1 33 2 26 3 22 3 24 3 50 3 3 3 23 2 26 2 14 2 21 3 16 3 54 1 90 2 35 4 45 1 40 4 13 2 96 3 1 2 4 2 6 3 14 1 36 1 53 1 15 3 21 2 4 1 80 1 1641"/>
<path d="M236.06 921.65h1631.0" stroke="#4289cf" stroke-width="35.66" stroke-dasharray="0 53 3 10 4 18 2 23 2 20 2 30 1 6 2 66 4 44 1 79 3 2 2 62 2 18 2 12 2 5 2 46 1 55 3 3 2 1 1 137 3 25 2 19 3 2 1 112 2 58 4 13 2 38 4 125 1 58 1 34 1 4 1 81 2 34 2 4 1 30 2 13 4 46 1 25 2 69 2 34 1 1641"/>
<path d="M236.06 921.65h1631.0" stroke="#3f91d3" stroke-width="35.66" stroke-dasharray="0 295 1 11 3 69 2 4 2 6 2 23 5 13 3 23 5 12 1 26 2 15 2 9 2 32 1 86 2 98 1 12 3 28 1 213 2 11 4 15 2 102 1 10 1 33 4 19 4 18 4 17 1 58 4 109 1 84 1 10 4 55 3 34 2 1641"/>
<path d="M236.06 921.65h1631.0" stroke="#3999d6" stroke-width="35.66" stroke-dasharray="0 443 4 52 2 1 4 27 1 20 1 41 2 102 2 8 1 13 3 59 1 186 1 56 1 121 1 69 1 225 1 15 3 4 4 7 4 5 3 100 2 1641"/>
<path d="M236.06 921.65h1631.0" stroke="#2fa1d7" stroke-width="35.66" stroke-dasharray="0 52 1 37 2 452 1 13 4 439 2 70 1 131 1 60 3 85 1 139 4 1641"/>
<path d="M236.06 921.65h1631.0" stroke="#25a9d7" stroke-width="35.66" stroke-dasharray="0 21 2 92 2 51 2 8 2 267 4 64 2 31 2 42 1 134 4 869 1 1641"/>
<path d="M236.06 921.65h1631.0" stroke="#1baecf" stroke-width="35.66" stroke-dasharray="0 93 3 365 1 294 1 723 2 58 1 51 2 1641"/>
<path d="M236.06 921.65h1631.0" stroke="#1fb2c1" stroke-width="35.66" stroke-dasharray="0 80 2 345 2 135 3 10 2 21 4 543 2 128 2 86 2 1641"/>
<path d="M236.06 921.65h1631.0" stroke="#9cc066" stroke-width="35.66" stroke-dasharray="0 525 1 91 1 157 1 1641"/>
<path d="M236.06 957.01h1631.0" stroke="#463c9a" stroke-width="35.66" stroke-dasharray="0 271 2 593 2 197 1 1641"/>
<path d="M236.06 957.01h1631.0" stroke="#473f9d" stroke-width="35.66" stroke-dasharray="0 11 1 1097 2 1641"/>
<path d="M236.06 957.01h1631.0" stroke="#4842a0" stroke-width="35.66" stroke-dasharray="0 97 2 96 3 1100 2 1641"/>
<path d="M236.06 957.01h1631.0" stroke="#4946a3" stroke-width="35.66" stroke-dasharray="0 189 1 8 4 44 1 17 1 97 1 161 1 441 4 308 1 137 2 1641"/>
<path d="M236.06 957.01h1631.0" stroke="#4a4aa6" stroke-width="35.66" stroke-dasharray="0 18 1 24 1 76 2 117 1 4 2 5 1 78 2 209 1 42 2 8 3 40 4 185 3 89 3 29 2 151 2 84 1 169 2 52 3 66 2 37 1 1641"/>
<path d="M236.06 957.01h1631.0" stroke="#4b50a9" stroke-width="35.66" stroke-dasharray="0 2 1 1 2 49 2 39 1 25 2 1 1 7 2 5 2 86 2 45 1 47 3 9 2 82 1 24 1 132 2 22 3 2 2 8 4 27 3 27 2 111 1 26 1 99 1 146 1 68 1 54 1 107 1 11 1 73 3 1641"/>
<path d="M236.06 957.01h1631.0" stroke="#4c55ad" stroke-width="35.66" stroke-dasharray="0 14 2 25 1 27 1 15 1 56 3 57 1 9 2 38 1 25 2 69 1 102 4 35 2 65 3 36 4 137 4 53 1 7 2 144 1 7 1 54 3 6 2 6 2 160 1 33 1 71 1 124 2 44 2 8 4 22 4 23 3 1641"/>
<path d="M236.06 957.01h1631.0" stroke="#4d5bb0" stroke-width="35.66" stroke-dasharray="0 6 2 30 1 67 1 10 3 4 1 1 1 22 4 64 2 29 3 2 2 12 4 38 2 17 1 3 1 7 1 10 3 5 2 145 2 26 1 13 1 136 2 5 1 3 4 19 2 84 6 1 1 7 2 49 2 51 2 26 1 30 2 149 2 58 2 16 1 35 2 56 1 2 4 65 2 55 2 49 1 35 2 55 3 34 1 1641"/>
<path d="M236.06 957.01h1631.0" stroke="#4c60b4" stroke-width="35.66" stroke-dasharray="0 26 6 7 2 17 4 8 1 61 1 24 4 13 3 10 1 37 2 49 1 3 3 78 1 2 2 57 1 2 4 20 1 17 2 70 1 9 4 7 4 14 2 32 3 4 3 4 1 3 2 35 2 17 3 88 3 15 3 12 1 6 2 93 1 16 3 37 2 10 1 2 1 99 2 151 2 10 3 8 3 11 3 4 1 46 3 26 1 21 2 3 3 14 2 120 2 11 2 18 1 5 4 11 1 22 3 1641"/>
<path d="M236.06 957.01h1631.0" stroke="#4b65b9" stroke-width="35.66" stroke-dasharray="0 10 1 1 2 18 1 21 1 52 4 24 5 63 4 4 1 2 2 24 4 15 1 51 2 13 2 13 2 20 1 74 1 9 2 37 2 13 1 28 3 56 4 14 2 13 1 4 2 32 2 29 3 14 5 2 1 13 2 9 2 8 1 3 2 72 3 4 1 6 3 4 4 22 2 42 3 72 5 6 2 31 2 39 2 8 1 13 3 9 3 5 1 19 4 4 4 36 1 20 2 19 1 8 2 7 2 9 3 16 3 8 2 44 6 7 2 63 4 78 2 25 2 13 1 15 4 20 2 1641"/>
<path d="M236.06 957.01h1631.0" stroke="#4a6abd" stroke-width="35.66" stroke-dasharray="0 33 5 19 1 55 2 40 2 31 1 18 1 22 1 46 1 6 1 22 2 20 1 86 2 2 3 16 4 24 1 6 3 16 3 18 5 1 2 7 2 13 2 19 2 7 3 27 1 45 7 2 3 47 1 16 3 26 1 84 4 3 4 4 1 14 1 22 1 14 2 5 2 38 2 4 5 43 3 32 1 3 3 9 4 8 1 56 4 28 4 1 1 1 1 23 1 8 4 31 1 49 2 19 1 38 3 58 2 16 2 18 2 23 3 78 2 35 2 27 4 1641"/>
<path d="M236.06 957.01h1631.0" stroke="#4970c0" stroke-width="35.66" stroke-dasharray="0 49 5 14 1 2 3 98 2 86 4 69 2 10 4 6 4 59 1 24 1 34 1 2 2 13 6 1 1 7 3 29 1 3 1 1 1 4 2 49 1 18 2 9 2 42 1 4 1 15 1 22 3 23 1 34 6 1 4 27 4 30 2 38 4 28 2 23 2 26 1 5 4 32 4 4 1 41 8 27 1 15 1 2 2 28 1 9 1 74 2 113 1 96 1 80 2 12 2 3 1 12 4 25 1 9 6 1641"/>
<path d="M236.06 957.01h1631.0" stroke="#4876c3" stroke-width="35.66" stroke-dasharray="0 25 1 37 1 51 2 52 3 6 3 11 3 25 3 42 2 6 2 10 3 31 4 15 2 92 2 22 2 12 4 10 3 2 2 17 3 14 3 10 2 27 5 1 1 7 3 46 1 10 4 25 1 9 4 6 1 39 1 5 2 6 4 2 2 47 2 12 4 16 4 27 2 2 2 75 2 11 1 32 2 1 2 21 2 15 5 12 2 1 3 36 1 32 1 45 1 32 7 16 1 8 1 8 2 12 1 29 4 19 2 11 3 3 4 19 1 14 2 33 2 101 2 52 1 21 4 16 2 15 3 1641"/>
<path d="M236.06 957.01h1631.0" stroke="#477bc6" stroke-width="35.66" stroke-dasharray="0 45 4 54 3 6 1 14 3 33 4 49 1 18 4 18 2 44 4 30 1 5 2 35 1 56 1 25 4 12 2 2 1 35 1 2 2 12 2 8 1 9 2 68 1 30 2 32 1 41 3 93 1 54 3 3 3 7 4 6 3 1 1 24 6 59 3 12 2 37 2 9 1 17 4 1 1 1 2 25 3 12 4 37 4 35 1 12 3 84 4 31 2 44 1 11 4 47 1 14 1 11 1 55 4 6 1 1 2 33 2 20 1 1641"/>
<path d="M236.06 957.01h1631.0" stroke="#4582ca" stroke-width="35.66" stroke-dasharray="0 0 2 6 2 64 2 10 4 3 3 34 2 35 2 8 1 12 2 16 3 22 2 12 1 35 1 4 4 21 1 75 3 16 2 52 1 41 2 66 1 13 2 45 2 29 4 53 1 31 2 17 2 7 2 55 2 18 1 35 2 51 2 44 1 38 2 65 3 11 4 41 3 20 2 57 2 37 3 6 2 14 2 43 2 11 3 1 4 6 1 21 4 27 1 10 5 5 4 80 1 42 1 17 1 1641"/>
<path d="M236.06 957.01h1631.0" stroke="#4289cf" stroke-width="35.66" stroke-dasharray="0 62 1 90 2 26 6 127 5 59 2 45 1 4 2 29 1 286 1 52 2 101 4 78 1 70 1 62 1 96 4 37 2 55 1 45 1 28 6 28 1 2 2 3 3 2 3 36 2 6 2 3 4 4 3 2 2 10 1 24 3 1641"/>
<path d="M236.06 957.01h1631.0" stroke="#3f91d3" stroke-width="35.66" stroke-dasharray="0 76 1 154 2 22 2 40 3 50 1 100 1 90 1 102 2 68 1 67 1 95 3 5 3 43 1 38 4 126 1 62 1 3 3 11 2 28 1 106 1 44 1 6 3 29 1 50 1 32 1 82 2 19 3 20 1 1641"/>
<path d="M236.06 957.01h1631.0" stroke="#3999d6" stroke-width="35.66" stroke-dasharray="0 16 2 1 1 57 3 3 2 60 4 74 2 67 3 86 2 3 3 5 1 51 2 80 1 145 3 28 2 9 1 1 1 50 1 4 1 151 2 7 4 62 3 11 2 22 1 30 2 11 2 56 4 30 2 49 2 147 1 54 2 41 2 40 2 9 1 46 4 47 1 1641"/>
<path d="M236.06 957.01h1631.0" stroke="#2fa1d7" stroke-width="35.66" stroke-dasharray="0 3 1 16 1 23 1 19 4 306 1 17 2 4 2 12 4 18 3 21 3 16 1 57 1 234 2 101 4 5 2 50 1 24 2 19 1 130 2 36 4 20 1 83 1 9 1 4 3 102 1 71 1 6 2 3 3 65 2 66 4 1641"/>
<path d="M236.06 957.01h1631.0" stroke="#25a9d7" stroke-width="35.66" stroke-dasharray="0 82 1 7 3 18 1 49 2 214 1 46 1 20 1 142 2 20 3 88 4 24 1 129 5 112 4 116 3 91 1 5 1 26 2 30 2 131 2 6 1 50 2 9 2 50 4 111 6 1641"/>
<path d="M236.06 957.01h1631.0" stroke="#1baecf" stroke-width="35.66" stroke-dasharray="0 42 1 37 2 293 2 23 4 318 1 39 3 262 2 145 1 10 3 9 4 31 3 101 2 126 4 145 2 1641"/>
<path d="M236.06 957.01h1631.0" stroke="#1fb2c1" stroke-width="35.66" stroke-dasharray="0 21 4 74 4 192 2 3 3 63 8 9 3 9 3 6 4 2 2 259 3 33 2 50 3 3 4 6 3 264 2 1 3 5 1 12 3 71 1 80 2 45 4 28 4 17 5 12 2 153 4 20 4 26 2 1641"/>
<path d="M236.06 957.01h1631.0" stroke="#9cc066" stroke-width="35.66" stroke-dasharray="0 219 1 7 1 126 1 403 1 597 1 1641"/>
<path d="M236.06 992.37h1631.0" stroke="#463c9a" stroke-width="35.66" stroke-dasharray="0 152 1 121 4 26 3 319 1 181 2 1641"/>
<path d="M236.06 992.37h1631.0" stroke="#473f9d" stroke-width="35.66" stroke-dasharray="0 315 1 317 2 169 2 11 4 91 3 1641"/>
<path d="M236.06 992.37h1631.0" stroke="#4842a0" stroke-width="35.66" stroke-dasharray="0 32 1 93 2 4 1 43 1 11 2 22 1 56 2 18 2 30 3 523 2 266 1 253 2 1641"/>
<path d="M236.06 992.37h1631.0" stroke="#4946a3" stroke-width="35.66" stroke-dasharray="0 10 1 26 3 158 2 64 2 249 1 164 1 62 1 84 2 237 1 457 4 1641"/>
<path d="M236.06 992.37h1631.0" stroke="#4a4aa6" stroke-width="35.66" stroke-dasharray="0 13 1 49 2 85 2 52 4 131 2 12 1 299 6 148 1 25 2 139 2 118 4 56 2 1641"/>
<path d="M236.06 992.37h1631.0" stroke="#4b50a9" stroke-width="35.66" stroke-dasharray="0 22 4 27 1 91 1 45 1 4 2 3 1 15 3 30 2 217 2 10 1 131 4 117 1 2 2 40 6 36 1 9 2 3 2 220 1 72 2 163 4 184 2 1641"/>
<path d="M236.06 992.37h1631.0" stroke="#4c55ad" stroke-width="35.66" stroke-dasharray="0 35 2 3 4 99 2 13 1 11 1 21 2 19 3 47 1 16 2 21 1 8 1 19 3 143 3 3 1 33 2 306 2 7 1 8 3 40 1 99 4 32 4 51 2 47 2 165 1 79 1 136 1 1641"/>
<path d="M236.06 992.37h1631.0" stroke="#4d5bb0" stroke-width="35.66" stroke-dasharray="0 4 2 5 2 20 2 50 1 30 2 3 1 12 4 11 1 30 2 13 1 4 1 53 3 11 1 2 1 7 1 177 1 5 1 7 1 34 2 40 4 51 3 34 2 21 3 64 4 53 1 42 1 18 2 41 2 69 3 13 2 54 2 24 1 21 3 12 1 6 2 2 4 16 1 201 1 80 2 5 3 31 4 42 2 12 2 51 4 11 2 43 2 1641"/>
<path d="M236.06 992.37h1631.0" stroke="#4c60b4" stroke-width="35.66" stroke-dasharray="0 2 1 23 1 4 1 39 2 55 4 6 1 7 2 16 3 27 1 16 1 17 1 15 1 26 2 33 1 111 2 31 4 77 2 29 1 17 2 15 1 35 2 14 2 13 2 14 3 4 3 56 2 4 4 36 7 13 1 61 2 29 1 12 2 34 3 24 2 9 2 6 1 24 2 53 1 9 2 8 2 3 2 71 3 83 1 82 2 1 3 54 3 168 1 14 2 1641"/>
<path d="M236.06 992.37h1631.0" stroke="#4b65b9" stroke-width="35.66" stroke-dasharray="0 73 3 38 2 4 1 1 1 10 1 7 2 12 3 32 1 11 2 5 1 29 2 3 1 7 2 30 2 42 4 13 2 7 4 3 4 81 1 2 2 5 1 1 4 12 4 21 4 33 1 21 1 27 1 32 1 3 2 4 2 6 2 78 1 17 2 48 2 35 4 46 1 12 2 19 1 1 2 112 1 45 3 2 2 24 1 4 1 131 1 16 1 32 2 15 2 22 1 18 2 3 1 50 1 79 1 3 4 53 4 11 1 27 3 32 1 1641"/>
<path d="M236.06 992.37h1631.0" stroke="#4a6abd" stroke-width="35.66" stroke-dasharray="0 0 2 1 1 12 5 35 1 29 1 17 1 8 1 4 2 19 2 7 1 28 3 28 1 12 4 35 1 5 2 40 4 25 2 4 2 87 1 4 3 22 1 9 2 8 2 14 1 6 1 2 3 2 2 24 1 12 1 17 1 5 1 2 3 18 1 7 1 3 1 4 2 6 1 42 1 9 2 1 1 108 4 17 3 61 1 95 1 4 3 18 1 5 1 4 2 42 1 9 5 57 3 6 4 26 2 25 2 9 3 33 4 10 2 7 2 22 2 39 2 13 6 25 1 3 1 8 2 38 2 11 1 64 2 1 2 47 2 1 1 18 4 25 3 1641"/>
<path d="M236.06 992.37h1631.0" stroke="#4970c0" stroke-width="35.66" stroke-dasharray="0 15 1 28 1 13 2 16 2 45 1 1 1 57 2 128 1 10 4 13 2 7 1 70 3 61 1 2 2 6 2 26 3 15 3 17 2 1 3 9 2 12 4 14 3 8 2 40 1 32 4 20 2 117 3 13 1 39 1 20 1 50 3 29 2 4 4 8 2 19 1 1 4 7 2 23 3 74 2 75 1 26 4 20 3 7 4 17 2 19 1 2 1 27 2 15 2 32 2 6 2 19 5 19 2 5 4 5 1 37 4 6 1 10 1 7 4 2 1 13 4 15 6 16 4 1641"/>
<path d="M236.06 992.37h1631.0" stroke="#4876c3" stroke-width="35.66" stroke-dasharray="0 45 4 16 4 18 2 6 2 8 2 56 1 9 1 13 1 22 1 124 2 14 2 87 3 73 2 22 2 11 4 2 2 7 2 19 2 15 2 23 2 14 2 60 8 71 1 12 3 134 3 6 3 2 4 5 1 20 1 2 2 4 3 86 2 4 2 25 2 5 2 22 4 13 2 8 3 15 1 18 4 23 1 5 4 4 2 32 1 4 2 92 2 20 1 21 3 72 1 34 2 66 1 1641"/>
<path d="M236.06 992.37h1631.0" stroke="#477bc6" stroke-width="35.66" stroke-dasharray="0 8 2 39 4 44 4 6 2 52 2 11 2 9 2 29 1 9 2 50 1 4 1 63 3 15 4 59 4 15 2 41 3 10 1 27 2 4 2 34 1 10 1 10 2 4 2 39 4 3 2 34 4 3 3 26 4 25 1 38 1 20 1 30 3 7 3 6 4 18 2 15 1 10 2 4 1 5 3 25 2 29 1 14 1 23 2 24 4 21 1 18 2 31 1 50 1 8 1 28 1 15 1 66 1 13 2 17 2 6 2 17 2 31 1 11 2 14 3 19 5 26 1 8 4 30 1 4 3 95 3 1641"/>
<path d="M236.06 992.37h1631.0" stroke="#4582ca" stroke-width="35.66" stroke-dasharray="0 14 1 45 2 47 4 40 2 70 1 11 2 7 4 154 1 6 3 10 2 67 3 8 1 117 1 4 2 10 1 19 2 45 3 9 1 32 3 52 1 8 2 47 1 3 2 8 1 12 1 8 4 32 2 3 2 69 1 20 2 3 1 33 1 106 1 12 4 17 2 30 1 8 2 6 4 58 1 14 1 17 4 11 2 12 2 4 2 9 1 53 2 56 2 32 1 9 4 47 1 13 2 2 1 1641"/>
<path d="M236.06 992.37h1631.0" stroke="#4289cf" stroke-width="35.66" stroke-dasharray="0 6 2 21 2 47 5 19 2 55 2 10 2 55 1 12 3 13 3 1 2 25 1 102 2 33 2 99 4 26 1 13 2 88 1 77 4 141 1 5 1 7 1 30 2 14 2 141 2 32 1 33 1 12 2 4 4 5 1 33 2 26 3 22 3 46 2 39 2 31 2 68 3 62 2 1 4 4 1 22 3 31 7 26 1 1641"/>
<path d="M236.06 992.37h1631.0" stroke="#3f91d3" stroke-width="35.66" stroke-dasharray="0 62 1 27 1 91 1 131 1 3 3 54 1 6 2 34 1 14 4 28 4 42 2 7 4 21 3 13 1 196 1 111 2 181 5 58 4 19 2 56 2 26 3 95 1 9 2 54 3 80 2 46 1 108 1 1641"/>
<path d="M236.06 992.37h1631.0" stroke="#3999d6" stroke-width="35.66" stroke-dasharray="0 54 2 1 1 11 2 20 4 72 3 112 1 3 2 10 2 16 2 75 1 20 1 28 1 42 2 47 1 49 1 113 5 24 2 14 3 118 3 29 1 6 2 11 3 13 3 7 1 25 2 1 2 211 4 16 3 16 1 7 3 33 2 60 1 65 2 37 2 55 1 48 1 5 2 34 3 1641"/>
<path d="M236.06 992.37h1631.0" stroke="#2fa1d7" stroke-width="35.66" stroke-dasharray="0 21 1 79 1 131 4 57 1 78 2 1 2 22 4 3 2 35 2 18 1 132 2 47 1 25 3 50 3 36 2 4 4 81 4 14 2 69 1 17 1 47 2 6 2 121 3 60 1 25 2 35 1 2 1 44 5 45 4 61 5 13 5 17 2 35 2 109 3 1641"/>
<path d="M236.06 992.37h1631.0" stroke="#25a9d7" stroke-width="35.66" stroke-dasharray="0 83 2 39 1 105 3 67 1 57 3 49 1 40 1 122 2 312 2 5 2 28 4 71 2 11 3 13 4 10 3 276 1 53 4 18 2 59 4 30 2 114 1 12 2 1641"/>
<path d="M236.06 992.37h1631.0" stroke="#1baecf" stroke-width="35.66" stroke-dasharray="0 296 1 4 2 84 4 7 1 6 2 8 3 357 4 280 2 39 2 28 1 17 4 13 4 30 2 14 2 57 1 38 2 90 4 20 1 65 4 1641"/>
<path d="M236.06 992.37h1631.0" stroke="#1fb2c1" stroke-width="35.66" stroke-dasharray="0 27 2 60 1 201 3 1 1 1 1 71 4 5 4 2 3 7 4 1 1 9 1 177 2 80 3 3 3 26 2 41 1 11 5 2 4 4 1 84 1 19 3 49 2 26 2 176 2 18 4 35 1 20 1 2 4 51 5 20 3 2 4 29 1 9 1 114 1 26 2 12 1 4 2 27 2 34 2 32 1 1641"/>
<path d="M236.06 992.37h1631.0" stroke="#9cc066" stroke-width="35.66" stroke-dasharray="0 220 1 1641"/>
<path d="M236.06 1027.73h1631.0" stroke="#463c9a" stroke-width="35.66" stroke-dasharray="0 130 2 1641"/>
<path d="M236.06 1027.73h1631.0" stroke="#473f9d" stroke-width="35.66" stroke-dasharray="0 98 4 143 2 68 2 519 2 104 2 412 2 1641"/>
<path d="M236.06 1027.73h1631.0" stroke="#4842a0" stroke-width="35.66" stroke-dasharray="0 127 1 12 2 133 1 153 1 351 3 634 2 202 1 1641"/>
<path d="M236.06 1027.73h1631.0" stroke="#4946a3" stroke-width="35.66" stroke-dasharray="0 19 1 21 2 77 2 29 1 42 1 72 4 2 2 34 4 53 2 11 2 25 4 195 3 195 4 21 2 10 1 532 2 1641"/>
<path d="M236.06 1027.73h1631.0" stroke="#4a4aa6" stroke-width="35.66" stroke-dasharray="0 34 4 64 2 19 3 24 1 38 2 15 1 56 2 7 1 344 2 139 1 5 1 60 3 18 2 3 4 30 1 101 1 165 1 350 1 18 2 57 2 1641"/>
<path d="M236.06 1027.73h1631.0" stroke="#4b50a9" stroke-width="35.66" stroke-dasharray="0 38 3 7 3 37 1 48 2 87 1 114 2 9 2 20 2 64 2 24 2 69 1 6 2 159 2 10 2 40 4 60 2 5 2 13 1 2 3 12 4 176 3 112 2 30 3 36 1 121 2 49 1 48 2 62 1 33 1 1641"/>
<path d="M236.06 1027.73h1631.0" stroke="#4c55ad" stroke-width="35.66" stroke-dasharray="0 12 4 75 1 116 2 84 2 35 2 4 2 86 4 31 1 77 2 27 1 5 1 18 3 112 3 9 2 30 2 25 2 28 2 24 2 59 2 19 2 10 4 5 4 35 4 17 1 20 4 9 1 63 1 4 4 40 5 70 2 47 1 18 2 21 4 21 3 41 4 192 2 21 2 1641"/>
<path d="M236.06 1027.73h1631.0" stroke="#4d5bb0" stroke-width="35.66" stroke-dasharray="0 0 1 42 4 79 1 5 3 10 1 85 2 16 2 1 1 95 3 20 2 31 2 28 2 3 1 48 1 33 2 39 1 23 1 15 2 28 2 79 2 53 2 2 1 18 3 26 2 9 2 107 1 43 2 125 1 21 3 2 5 29 2 20 3 8 1 3 2 45 1 11 2 92 1 33 2 50 2 21 2 21 1 54 4 2 1 6 2 1 3 1641"/>
<path d="M236.06 1027.73h1631.0" stroke="#4c60b4" stroke-width="35.66" stroke-dasharray="0 7 5 17 1 34 4 3 2 12 2 18 2 9 4 2 1 16 1 6 4 2 2 3 2 16 1 11 2 9 4 3 1 65 1 47 2 4 4 17 2 39 4 93 2 8 2 31 2 11 1 17 1 31 2 23 2 4 2 3 1 1 2 7 4 7 2 1 1 13 1 14 1 6 4 6 2 38 3 72 2 27 4 14 4 19 2 25 2 39 2 12 2 92 2 7 4 10 4 43 1 64 2 32 2 45 1 6 4 9 2 28 2 5 4 26 2 20 1 11 2 58 2 1 3 10 1 44 2 21 1 6 3 13 1 6 2 1 3 11 1 26 2 1641"/>
<path d="M236.06 1027.73h1631.0" stroke="#4b65b9" stroke-width="35.66" stroke-dasharray="0 20 9 18 1 20 3 4 2 12 2 3 4 44 2 59 2 2 1 11 3 2 2 17 2 6 1 1 4 48 2 26 4 25 1 6 2 14 2 4 4 16 2 4 4 55 1 2 3 49 2 31 2 8 2 12 2 5 4 28 1 13 2 10 3 7 2 3 4 12 3 8 1 8 1 7 1 12 2 26 1 11 2 4 1 86 1 11 3 39 4 17 1 24 1 2 2 3 2 16 1 22 1 14 1 17 2 21 2 11 5 7 1 66 3 23 2 29 1 22 2 21 2 11 1 25 9 8 1 8 1 6 1 17 3 8 2 3 1 3 1 43 3 10 3 7 2 3 8 6 1 39 1 16 4 10 2 9 3 32 1 35 3 18 3 1641"/>
<path d="M236.06 1027.73h1631.0" stroke="#4a6abd" stroke-width="35.66" stroke-dasharray="0 1 4 11 1 118 2 17 3 14 2 9 1 10 1 53 2 8 1 7 2 15 6 9 6 10 2 36 1 12 2 10 1 7 1 12 3 13 4 13 4 2 1 15 4 12 2 12 2 23 2 12 1 11 4 20 1 25 1 1 2 36 2 5 2 18 1 40 4 32 3 20 1 6 1 16 4 29 1 2 2 67 3 7 3 2 1 6 1 30 1 11 2 47 2 6 2 30 1 2 1 17 2 6 1 8 3 19 1 10 1 1 4 4 2 17 1 15 2 3 1 53 2 27 4 13 3 3 3 4 1 17 2 5 1 3 1 18 1 59 4 9 4 69 2 6 2 4 3 18 2 7 2 25 4 18 2 1 1 29 5 14 1 10 4 1641"/>
<path d="M236.06 1027.73h1631.0" stroke="#4970c0" stroke-width="35.66" stroke-dasharray="0 30 4 17 2 51 1 9 2 12 2 46 4 5 2 8 3 4 1 7 1 68 2 36 2 24 3 31 2 21 4 47 1 20 4 48 2 42 3 5 3 20 2 24 1 6 1 29 1 3 2 6 2 6 2 18 1 13 1 39 1 15 1 24 1 18 5 57 1 5 1 1 3 13 1 46 1 18 3 11 1 49 1 1 2 14 1 34 3 25 1 8 2 42 4 8 2 22 4 9 1 2 1 5 3 52 2 8 1 16 2 10 3 17 5 3 1 45 3 8 4 8 1 37 1 9 2 9 1 25 2 7 2 66 4 11 1 3 2 4 4 4 2 1641"/>
<path d="M236.06 1027.73h1631.0" stroke="#4876c3" stroke-width="35.66" stroke-dasharray="0 5 2 10 2 54 2 35 1 56 4 9 2 52 2 40 2 29 2 51 2 99 4 36 1 17 2 25 1 12 4 21 1 16 2 8 4 4 2 22 5 8 6 14 4 19 1 33 1 1 2 51 2 24 2 39 3 9 3 37 2 15 4 18 2 7 3 5 1 31 1 4 1 12 1 9 1 27 2 21 1 15 2 24 5 8 2 29 3 20 3 14 2 39 1 3 2 3 4 18 2 1 4 14 1 32 2 25 3 15 2 48 4 7 3 30 4 13 4 16 2 23 2 64 3 25 1 1 4 1641"/>
<path d="M236.06 1027.73h1631.0" stroke="#477bc6" stroke-width="35.66" stroke-dasharray="0 62 2 13 4 63 1 114 1 2 1 25 2 6 1 6 2 16 4 29 6 3 1 9 1 8 2 11 2 13 1 26 2 3 3 11 4 10 1 6 1 21 2 17 1 7 1 2 2 16 2 22 2 6 1 2 1 27 1 24 2 63 2 8 2 11 2 18 2 35 1 9 2 8 2 36 2 57 4 58 2 11 4 4 2 26 3 13 4 37 2 31 2 21 1 4 2 35 3 11 1 8 4 17 1 22 3 11 1 2 3 58 2 6 2 25 2 54 3 14 2 11 3 16 1 41 4 24 5 6 3 26 4 65 1 1641"/>
<path d="M236.06 1027.73h1631.0" stroke="#4582ca" stroke-width="35.66" stroke-dasharray="0 53 3 117 2 36 4 12 4 2 1 6 3 17 2 19 1 99 1 39 4 40 1 23 1 15 1 3 4 67 2 70 1 19 2 39 1 7 2 22 1 21 2 33 1 108 1 7 3 26 1 62 2 29 1 10 1 2 2 34 1 82 2 21 2 16 2 3 3 9 2 112 1 10 1 50 3 16 1 49 4 62 2 38 2 29 2 1641"/>
<path d="M236.06 1027.73h1631.0" stroke="#4289cf" stroke-width="35.66" stroke-dasharray="0 56 2 29 1 4 2 67 2 54 2 3 2 12 4 18 1 70 2 8 2 27 1 80 2 35 2 2 4 8 2 49 4 124 1 48 3 7 2 12 2 7 1 20 4 7 2 1 2 76 2 25 4 89 1 6 4 30 2 7 2 27 1 18 1 15 2 12 2 54 1 61 2 213 1 82 4 1641"/>
<path d="M236.06 1027.73h1631.0" stroke="#3f91d3" stroke-width="35.66" stroke-dasharray="0 83 2 22 3 49 2 22 2 93 1 11 4 151 2 31 1 17 3 14 3 25 3 5 4 143 1 6 1 230 3 34 1 11 1 7 2 5 2 28 3 8 1 20 2 34 2 7 1 25 2 18 2 60 2 75 2 73 3 244 1 1641"/>
<path d="M236.06 1027.73h1631.0" stroke="#3999d6" stroke-width="35.66" stroke-dasharray="0 58 4 19 2 28 3 77 2 254 2 293 1 132 1 112 3 330 2 5 2 15 1 23 2 13 4 32 1 65 4 110 2 1641"/>
<path d="M236.06 1027.73h1631.0" stroke="#2fa1d7" stroke-width="35.66" stroke-dasharray="0 163 4 48 2 254 1 44 2 48 1 325 2 28 2 90 4 152 3 264 3 125 1 1641"/>
<path d="M236.06 1027.73h1631.0" stroke="#25a9d7" stroke-width="35.66" stroke-dasharray="0 608 2 308 1 33 3 134 1 173 4 140 2 98 2 1641"/>
<path d="M236.06 1027.73h1631.0" stroke="#1baecf" stroke-width="35.66" stroke-dasharray="0 506 1 239 4 298 2 87 2 1641"/>
<path d="M236.06 1027.73h1631.0" stroke="#1fb2c1" stroke-width="35.66" stroke-dasharray="0 734 1 138 2 623 2 1641"/>
<path d="M236.06 1027.73h1631.0" stroke="#9cc066" stroke-width="35.66" stroke-dasharray="0 504 1 1076 1 1641"/>
<path d="M236.06 1063.10h1631.0" stroke="#463c9a" stroke-width="35.66" stroke-dasharray="0 581 2 1641"/>
<path d="M236.06 1063.10h1631.0" stroke="#4842a0" stroke-width="35.66" stroke-dasharray="0 29 1 497 3 808 1 1641"/>
<path d="M236.06 1063.10h1631.0" stroke="#4946a3" stroke-width="35.66" stroke-dasharray="0 219 2 222 1 51 2 18 4 271 2 535 2 85 1 1641"/>
<path d="M236.06 1063.10h1631.0" stroke="#4a4aa6" stroke-width="35.66" stroke-dasharray="0 76 1 91 2 116 1 50 3 109 2 13 2 33 1 6 2 22 2 1 2 4 1 62 4 149 4 12 1 20 2 18 2 64 2 14 1 84 4 247 1 235 1 4 2 1641"/>
<path d="M236.06 1063.10h1631.0" stroke="#4b50a9" stroke-width="35.66" stroke-dasharray="0 0 2 49 1 115 1 102 2 62 2 110 1 44 2 33 1 48 4 4 2 125 1 24 4 2 2 52 3 89 1 103 2 25 3 10 1 43 2 41 1 8 2 315 3 114 2 1641"/>
<path d="M236.06 1063.10h1631.0" stroke="#4c55ad" stroke-width="35.66" stroke-dasharray="0 34 4 60 4 2 1 182 3 3 2 8 2 23 1 52 3 5 4 19 1 18 2 34 1 2 3 35 2 36 3 83 1 18 2 10 1 22 3 28 1 33 4 27 3 9 1 176 2 85 4 104 1 24 2 54 4 39 4 15 2 69 4 150 1 4 1 1 3 22 1 1641"/>
<path d="M236.06 1063.10h1631.0" stroke="#4d5bb0" stroke-width="35.66" stroke-dasharray="0 18 1 11 2 92 2 98 4 89 1 30 3 54 1 38 2 7 2 18 4 8 2 33 1 47 1 10 2 11 1 98 1 30 1 146 2 69 2 15 1 38 2 4 1 68 1 17 2 13 2 23 1 4 3 10 2 1 4 28 1 31 2 11 1 16 3 86 1 55 2 21 2 3 1 18 1 38 1 72 4 11 2 1641"/>
<path d="M236.06 1063.10h1631.0" stroke="#4c60b4" stroke-width="35.66" stroke-dasharray="0 55 4 47 3 9 2 22 4 68 2 89 1 4 3 5 2 6 2 31 1 9 2 27 1 29 3 6 2 21 1 53 1 8 2 12 1 11 1 15 1 3 2 17 4 1 3 35 1 2 2 10 3 7 3 62 1 4 2 6 1 4 2 35 3 41 4 51 1 41 5 17 1 24 1 13 1 19 3 2 3 17 7 5 5 8 1 17 1 30 1 3 2 16 1 102 5 11 3 26 3 33 3 23 1 107 1 1 2 45 4 9 4 42 3 57 6 1641"/>
<path d="M236.06 1063.10h1631.0" stroke="#4b65b9" stroke-width="35.66" stroke-dasharray="0 3 2 8 2 37 1 8 1 43 1 56 3 1 1 55 2 96 2 1 1 55 2 6 1 11 2 20 1 4 2 53 2 10 2 9 2 4 2 84 2 16 4 23 2 21 4 21 2 1 1 25 3 9 4 9 1 22 2 17 2 65 3 55 2 94 4 6 2 12 1 3 1 30 1 1 2 27 1 34 3 15 1 29 1 53 2 1 1 17 2 60 1 34 1 18 3 34 1 30 1 12 2 20 1 7 1 23 2 23 4 1641"/>
<path d="M236.06 1063.10h1631.0" stroke="#4a6abd" stroke-width="35.66" stroke-dasharray="0 44 1 1 2 14 1 4 4 6 3 11 2 41 1 110 3 81 1 3 1 50 3 35 2 11 2 26 1 13 4 9 1 9 2 30 1 66 3 24 2 15 3 8 2 4 3 52 2 72 1 12 1 38 3 32 2 37 2 16 2 12 2 17 3 14 6 6 1 14 6 47 2 7 1 43 2 20 1 28 2 44 1 2 3 10 1 35 2 12 3 18 2 12 2 5 1 4 1 30 2 25 4 5 1 10 3 14 3 53 2 111 2 23 2 1641"/>
<path d="M236.06 1063.10h1631.0" stroke="#4970c0" stroke-width="35.66" stroke-dasharray="0 53 1 9 4 4 5 59 4 31 4 1 4 10 3 56 2 41 2 31 2 20 2 9 2 34 3 6 1 3 2 5 2 4 2 3 2 21 2 7 4 6 1 35 2 17 2 31 2 6 3 1 2 40 1 24 1 2 1 22 1 8 3 4 2 28 1 44 1 18 2 1 4 12 1 18 1 21 2 7 3 14 2 6 1 19 3 46 1 32 1 7 2 18 2 27 1 19 1 2 3 14 1 28 4 30 1 11 1 4 2 17 3 19 2 9 2 23 1 17 1 3 3 12 5 2 2 10 2 9 1 15 1 5 1 13 2 7 2 10 4 44 2 1 2 4 2 6 1 17 2 6 1 21 1 3 1 6 4 5 1 5 1 90 2 8 1 10 2 6 1 1641"/>
<path d="M236.06 1063.10h1631.0" stroke="#4876c3" stroke-width="35.66" stroke-dasharray="0 2 1 12 3 27 1 2 1 41 1 23 2 10 2 3 3 12 3 37 2 19 2 30 2 27 2 11 5 4 1 17 2 30 2 19 4 8 2 36 1 49 2 93 6 9 2 67 1 8 2 2 1 29 2 63 2 18 1 18 1 10 4 12 1 56 4 5 3 3 1 3 4 18 3 11 2 18 1 16 1 109 2 7 1 12 1 17 2 11 1 12 2 13 4 15 4 3 2 11 1 6 1 19 2 39 2 43 1 17 2 9 3 1 2 15 1 10 2 50 2 9 2 22 1 19 1 8 2 18 2 11 1 42 2 4 1 3 1 30 2 15 2 1641"/>
<path d="M236.06 1063.10h1631.0" stroke="#477bc6" stroke-width="35.66" stroke-dasharray="0 5 3 13 4 29 1 38 2 34 1 27 4 22 1 16 3 34 2 40 2 55 1 5 4 21 2 27 2 17 4 15 1 48 2 3 2 29 1 5 1 9 2 36 2 10 3 21 1 18 3 48 2 12 2 3 3 22 3 2 2 14 4 31 2 22 1 11 1 19 3 10 4 85 2 5 2 5 4 5 3 38 1 41 2 11 2 11 2 16 2 41 1 27 3 46 4 17 1 6 1 16 2 16 1 13 2 8 4 13 3 5 1 10 1 10 1 5 3 27 3 16 4 10 2 67 2 11 2 1 4 18 2 39 1 11 3 2 1 8 3 24 4 1641"/>
<path d="M236.06 1063.10h1631.0" stroke="#4582ca" stroke-width="35.66" stroke-dasharray="0 8 4 7 1 18 2 20 1 34 2 23 1 44 1 8 1 9 2 6 4 7 3 3 3 6 1 2 1 11 3 5 4 9 3 18 4 22 2 48 2 12 2 34 1 2 1 63 2 42 2 26 2 2 2 4 4 68 4 45 2 12 1 9 3 16 1 66 1 36 2 37 2 1 3 1 4 67 2 5 2 11 2 12 2 18 2 49 2 7 4 28 1 21 1 40 3 17 1 12 2 8 4 20 2 18 2 54 1 1 1 74 2 22 1 52 3 11 1 38 1 12 1 36 1 23 1 34 2 24 2 1641"/>
<path d="M236.06 1063.10h1631.0" stroke="#4289cf" stroke-width="35.66" stroke-dasharray="0 20 1 28 2 30 2 5 1 20 5 3 1 33 1 3 2 22 4 53 1 29 2 54 1 37 1 42 1 4 3 22 1 5 4 54 2 107 2 10 4 15 3 37 2 3 1 21 1 6 3 49 3 42 4 19 2 26 1 39 4 55 2 15 1 45 1 76 3 6 4 140 1 22 1 59 1 19 2 7 1 83 4 2 1 7 2 27 2 31 4 1 2 22 2 13 1 11 4 4 3 31 2 4 2 1641"/>
<path d="M236.06 1063.10h1631.0" stroke="#3f91d3" stroke-width="35.66" stroke-dasharray="0 25 4 55 4 1 1 7 1 18 1 11 1 1 1 9 2 74 2 10 5 66 2 52 4 181 1 59 1 11 4 67 1 24 2 108 2 7 4 59 2 5 4 50 2 190 1 23 1 3 4 23 3 2 4 83 1 9 2 7 1 9 2 1 1 29 1 1 2 5 4 39 2 28 2 23 3 48 3 9 3 53 3 1641"/>
<path d="M236.06 1063.10h1631.0" stroke="#3999d6" stroke-width="35.66" stroke-dasharray="0 40 4 77 2 16 1 9 2 10 1 88 4 41 4 14 4 71 1 62 2 89 2 215 4 41 2 101 3 13 3 50 2 54 2 43 4 25 1 13 5 158 1 85 1 3 4 32 1 18 2 5 1 49 1 25 4 20 4 1 1 1641"/>
<path d="M236.06 1063.10h1631.0" stroke="#2fa1d7" stroke-width="35.66" stroke-dasharray="0 12 1 67 1 2 1 122 1 5 1 50 3 64 3 38 2 2 4 324 1 164 1 34 4 21 4 179 2 253 1 48 2 1 1 44 3 53 1 72 2 25 2 1641"/>
<path d="M236.06 1063.10h1631.0" stroke="#25a9d7" stroke-width="35.66" stroke-dasharray="0 102 2 48 3 44 1 13 1 43 2 13 3 426 2 5 2 343 3 27 4 255 1 81 2 101 1 28 2 38 4 23 4 1641"/>
<path d="M236.06 1063.10h1631.0" stroke="#1baecf" stroke-width="35.66" stroke-dasharray="0 188 1 7 3 107 2 147 1 388 4 337 2 18 2 75 1 1641"/>
<path d="M236.06 1063.10h1631.0" stroke="#1fb2c1" stroke-width="35.66" stroke-dasharray="0 32 2 89 1 135 4 410 2 131 1 17 1 8 2 87 1 192 1 83 1 71 3 3 2 236 1 38 2 1641"/>
<path d="M236.06 1063.10h1631.0" stroke="#9cc066" stroke-width="35.66" stroke-dasharray="0 59 1 427 1 1641"/>
<path d="M236.06 1098.46h1631.0" stroke="#463c9a" stroke-width="35.66" stroke-dasharray="0 117 2 14 1 24 1 39 1 48 2 14 3 115 1 28 2 3 2 362 2 40 1 3 3 10 2 390 2 1641"/>
<path d="M236.06 1098.46h1631.0" stroke="#473f9d" stroke-width="35.66" stroke-dasharray="0 134 1 17 4 57 4 32 4 2 2 40 2 97 2 78 1 108 2 80 1 143 1 118 2 474 1 90 3 37 1 1641"/>
<path d="M236.06 1098.46h1631.0" stroke="#4842a0" stroke-width="35.66" stroke-dasharray="0 91 2 63 2 36 1 139 3 35 3 38 2 243 2 106 1 32 1 3 1 8 3 21 1 495 2 50 4 59 2 54 1 32 1 1641"/>
<path d="M236.06 1098.46h1631.0" stroke="#4946a3" stroke-width="35.66" stroke-dasharray="0 12 2 66 2 43 1 4 1 11 2 130 2 95 1 15 3 294 4 87 4 30 1 327 4 391 2 68 1 1641"/>
<path d="M236.06 1098.46h1631.0" stroke="#4a4aa6" stroke-width="35.66" stroke-dasharray="0 14 1 23 1 49 1 42 2 3 1 10 1 1 2 36 2 3 2 52 1 6 1 3 3 39 2 66 3 8 2 12 2 7 4 3 2 273 1 131 3 19 1 16 1 19 4 137 3 77 3 57 4 181 4 116 2 147 4 1641"/>
<path d="M236.06 1098.46h1631.0" stroke="#4b50a9" stroke-width="35.66" stroke-dasharray="0 3 1 3 1 35 2 16 2 30 3 41 5 2 3 42 3 25 4 40 2 30 2 33 1 57 1 18 3 196 1 1 1 1 2 2 1 41 4 2 2 34 2 3 3 20 3 92 2 19 2 4 1 48 1 44 4 36 2 16 3 28 4 36 1 36 3 34 3 17 2 29 2 25 4 7 1 20 1 5 2 40 3 61 1 12 2 14 3 21 2 18 1 28 1 39 3 4 2 4 1 68 1 1641"/>
<path d="M236.06 1098.46h1631.0" stroke="#4c55ad" stroke-width="35.66" stroke-dasharray="0 20 8 4 2 174 5 8 3 30 1 5 1 11 2 11 1 54 1 11 2 30 2 201 2 32 3 13 1 32 1 9 2 28 2 50 1 39 1 15 1 13 2 29 1 4 3 12 1 29 1 20 2 3 1 17 2 76 2 36 2 104 4 43 4 25 4 10 2 33 2 30 4 52 2 5 2 63 1 85 1 30 4 39 2 1641"/>
<path d="M236.06 1098.46h1631.0" stroke="#4d5bb0" stroke-width="35.66" stroke-dasharray="0 10 2 16 4 7 4 44 1 9 4 9 1 8 2 2 2 48 2 4 2 25 2 62 2 5 1 25 1 10 1 2 2 5 4 5 1 3 2 4 2 18 2 52 3 84 2 24 1 69 1 31 5 28 2 15 1 6 3 6 3 57 2 5 1 2 3 77 4 52 2 5 2 46 2 82 1 22 3 9 1 50 2 52 2 8 1 86 1 7 1 60 1 51 2 4 2 11 1 35 4 5 1 10 1 13 2 1 1 31 3 6 2 40 1 8 2 1641"/>
<path d="M236.06 1098.46h1631.0" stroke="#4c60b4" stroke-width="35.66" stroke-dasharray="0 4 3 38 1 6 1 31 2 17 6 39 1 2 1 7 2 14 3 60 4 34 1 30 5 10 1 39 1 27 2 2 2 83 1 9 2 90 1 14 2 15 2 4 2 54 4 13 4 23 4 8 3 55 2 3 2 26 3 3 3 3 2 19 1 58 1 10 1 29 2 12 3 12 3 15 2 4 3 37 1 6 6 40 2 31 2 26 1 2 3 7 4 39 3 4 1 22 1 43 2 21 5 2 2 42 1 3 2 3 1 45 1 9 2 49 2 16 3 1 3 24 1 15 1 4 1 50 2 1641"/>
<path d="M236.06 1098.46h1631.0" stroke="#4b65b9" stroke-width="35.66" stroke-dasharray="0 48 3 26 1 11 2 35 4 48 1 20 5 40 2 20 4 31 2 9 2 9 1 15 1 5 2 4 1 4 2 7 2 3 1 41 1 56 1 3 2 7 1 16 3 47 3 74 2 40 2 91 1 29 1 5 1 6 1 5 1 45 5 5 2 5 1 53 3 2 2 16 2 10 2 29 4 4 1 16 6 2 3 8 1 38 2 26 2 17 3 59 6 8 3 4 1 34 2 28 4 1 3 21 1 5 1 21 2 14 3 6 7 4 1 38 2 4 3 27 2 1 1 23 1 7 2 8 1 63 2 4 6 19 2 10 3 2 2 7 1 7 2 3 4 1641"/>
<path d="M236.06 1098.46h1631.0" stroke="#4a6abd" stroke-width="35.66" stroke-dasharray="0 0 1 7 2 55 1 12 2 55 1 35 2 52 1 52 2 6 3 6 2 18 2 24 2 7 1 75 5 5 2 3 4 7 5 6 2 6 2 10 4 10 2 22 4 27 2 10 4 12 1 22 1 3 1 2 2 3 4 5 2 3 3 12 2 25 4 13 1 19 2 5 4 15 2 47 2 20 4 22 1 67 1 8 3 5 2 49 1 19 4 6 1 40 1 1 3 1 4 22 1 4 1 3 6 5 2 17 8 4 2 24 2 5 1 4 2 35 2 56 1 36 1 17 1 57 3 18 3 6 2 82 1 3 5 4 3 15 2 14 3 12 4 6 1 15 1 28 4 24 3 1 1 1641"/>
<path d="M236.06 1098.46h1631.0" stroke="#4970c0" stroke-width="35.66" stroke-dasharray="0 17 3 14 4 15 4 6 2 4 3 49 2 46 2 33 2 18 1 2 1 7 3 109 3 25 3 42 2 16 1 63 2 6 1 2 2 2 2 6 3 125 1 8 3 39 4 45 1 9 1 7 4 72 1 14 1 18 2 8 2 33 1 52 1 44 2 24 2 13 1 22 1 80 1 4 1 16 2 5 1 3 2 3 6 4 1 16 6 3 2 30 1 58 2 14 3 23 2 2 4 21 1 10 2 4 1 10 1 15 1 1 2 19 2 36 2 6 1 4 2 35 1 1641"/>
<path d="M236.06 1098.46h1631.0" stroke="#4876c3" stroke-width="35.66" stroke-dasharray="0 1 2 44 1 48 1 4 2 62 4 26 3 30 6 8 2 36 3 36 2 59 1 17 2 31 4 10 5 7 3 17 2 14 3 48 3 12 4 28 1 6 2 2 1 40 1 3 2 74 1 16 3 8 2 43 1 45 4 43 2 2 2 1 3 7 2 7 1 2 4 14 3 15 1 21 2 14 1 18 4 56 2 16 1 2 1 6 2 16 4 11 2 2 1 67 2 41 1 31 1 1 1 1 1 2 2 1 2 5 4 60 3 80 4 3 1 2 3 63 1 1 2 54 2 9 1 33 2 1641"/>
<path d="M236.06 1098.46h1631.0" stroke="#477bc6" stroke-width="35.66" stroke-dasharray="0 72 4 6 2 25 1 74 3 47 1 190 1 9 1 29 4 6 1 4 2 14 1 14 2 59 2 15 1 11 1 3 1 32 5 3 1 2 4 83 4 3 4 9 2 2 1 20 2 2 1 75 1 16 3 6 2 11 4 44 2 28 1 4 1 22 2 95 1 45 2 10 1 122 2 8 2 67 1 59 3 4 1 3 4 24 2 53 1 52 6 14 1 15 3 1641"/>
<path d="M236.06 1098.46h1631.0" stroke="#4582ca" stroke-width="35.66" stroke-dasharray="0 15 2 29 1 4 1 7 2 25 1 74 4 61 1 78 2 22 4 21 2 26 2 55 1 10 2 10 1 28 2 13 4 9 2 26 2 5 5 17 4 2 2 8 2 118 3 35 1 41 2 7 1 62 2 5 2 11 3 35 3 19 4 4 2 7 1 6 1 13 1 8 1 47 1 9 1 11 3 62 3 17 1 93 1 4 2 2 2 56 2 11 2 106 2 121 1 1641"/>
<path d="M236.06 1098.46h1631.0" stroke="#4289cf" stroke-width="35.66" stroke-dasharray="0 182 2 105 4 28 1 36 4 98 2 66 2 9 5 19 1 4 4 22 2 32 1 138 1 84 2 110 3 37 2 87 2 36 1 20 2 16 2 138 5 10 3 84 4 10 2 13 1 37 2 11 1 23 1 44 1 4 3 18 1 27 3 1641"/>
<path d="M236.06 1098.46h1631.0" stroke="#3f91d3" stroke-width="35.66" stroke-dasharray="0 57 2 56 2 283 1 23 1 62 2 26 2 57 2 103 1 47 4 302 2 17 3 30 3 53 2 25 1 44 4 45 7 61 2 40 3 93 4 66 4 52 2 1641"/>
<path d="M236.06 1098.46h1631.0" stroke="#3999d6" stroke-width="35.66" stroke-dasharray="0 111 4 66 1 288 1 64 4 45 1 213 1 352 1 109 1 62 1 66 1 237 1 1641"/>
<path d="M236.06 1098.46h1631.0" stroke="#2fa1d7" stroke-width="35.66" stroke-dasharray="0 283 2 137 2 107 4 212 3 422 2 77 2 29 1 259 1 1641"/>
<path d="M236.06 1098.46h1631.0" stroke="#25a9d7" stroke-width="35.66" stroke-dasharray="0 972 4 1641"/>
<path d="M236.06 1098.46h1631.0" stroke="#1baecf" stroke-width="35.66" stroke-dasharray="0 66 3 371 1 313 2 308 1 33 1 463 4 1641"/>
<path d="M236.06 1098.46h1631.0" stroke="#1fb2c1" stroke-width="35.66" stroke-dasharray="0 304 1 285 1 195 3 444 1 113 2 128 2 1641"/>
<path d="M236.06 1098.46h1631.0" stroke="#9cc066" stroke-width="35.66" stroke-dasharray="0 76 1 687 1 35 1 1641"/>
<path d="M236.06 1133.82h1631.0" stroke="#463c9a" stroke-width="35.66" stroke-dasharray="0 329 1 339 1 1641"/>
<path d="M236.06 1133.82h1631.0" stroke="#473f9d" stroke-width="35.66" stroke-dasharray="0 397 1 229 2 412 1 1641"/>
<path d="M236.06 1133.82h1631.0" stroke="#4842a0" stroke-width="35.66" stroke-dasharray="0 10 2 15 2 480 1 95 4 358 2 20 4 199 3 63 2 198 2 1641"/>
<path d="M236.06 1133.82h1631.0" stroke="#4946a3" stroke-width="35.66" stroke-dasharray="0 7 1 13 3 90 2 177 2 145 1 38 2 110 2 74 2 67 1 124 3 95 2 121 3 378 1 27 2 94 2 1641"/>
<path d="M236.06 1133.82h1631.0" stroke="#4a4aa6" stroke-width="35.66" stroke-dasharray="0 75 1 102 1 116 4 37 2 186 1 119 4 13 4 15 2 79 1 6 2 3 2 10 1 70 2 6 4 50 3 43 2 35 1 121 1 85 4 12 2 37 1 3 1 93 2 72 2 69 2 22 3 19 4 1641"/>
<path d="M236.06 1133.82h1631.0" stroke="#4b50a9" stroke-width="35.66" stroke-dasharray="0 4 2 2 2 55 3 31 1 40 1 185 3 1 4 5 2 19 1 12 4 4 3 6 2 6 1 5 2 62 5 71 2 216 4 119 1 11 1 18 2 30 2 11 3 179 1 30 3 44 2 57 1 14 1 63 3 37 1 33 3 24 2 14 2 38 3 24 3 19 2 1641"/>
<path d="M236.06 1133.82h1631.0" stroke="#4c55ad" stroke-width="35.66" stroke-dasharray="0 18 3 52 2 22 2 167 2 51 2 20 1 14 3 7 3 26 2 2 2 6 1 78 2 8 2 4 2 13 1 24 2 90 3 15 3 22 3 38 1 19 3 14 6 281 3 34 1 88 4 15 1 1 2 147 4 22 1 12 2 17 2 11 3 3 3 51 1 9 3 15 1 17 1 12 1 48 1 26 4 1641"/>
<path d="M236.06 1133.82h1631.0" stroke="#4d5bb0" stroke-width="35.66" stroke-dasharray="0 26 1 25 2 1 2 19 4 14 1 5 2 8 1 6 2 96 2 7 2 143 2 13 2 22 3 2 4 28 2 19 1 69 2 24 1 12 1 12 3 3 4 15 2 3 1 19 2 8 1 21 3 9 1 5 1 25 4 32 2 55 4 57 1 2 1 11 2 60 3 5 6 52 1 35 2 6 2 37 4 7 2 20 4 14 1 1 1 4 1 28 3 61 3 60 4 73 4 104 2 46 2 8 2 50 1 21 1 1641"/>
<path d="M236.06 1133.82h1631.0" stroke="#4c60b4" stroke-width="35.66" stroke-dasharray="0 12 2 34 4 16 1 20 2 4 2 9 2 15 1 68 2 5 3 2 2 42 4 11 3 33 3 21 2 19 5 14 3 12 3 13 1 26 3 6 4 1 4 21 2 12 2 5 2 44 1 33 1 57 2 8 2 34 1 17 1 12 4 25 4 41 1 104 3 11 4 9 1 22 1 17 2 21 1 28 1 6 1 42 2 28 1 40 3 2 2 25 3 3 2 9 3 31 2 3 4 9 1 11 2 63 1 23 2 23 1 4 1 54 1 23 2 11 1 15 2 53 1 49 4 37 1 1641"/>
<path d="M236.06 1133.82h1631.0" stroke="#4b65b9" stroke-width="35.66" stroke-dasharray="0 0 4 10 4 46 1 7 1 9 2 3 2 79 2 10 1 27 3 11 2 17 2 48 2 12 4 16 1 28 2 3 1 26 4 2 2 40 1 32 1 5 1 4 1 19 2 33 1 48 2 39 3 14 1 14 2 16 4 29 2 22 2 1 3 1 1 3 1 1 4 19 1 84 3 6 1 12 2 28 3 4 2 23 4 34 4 16 2 3 1 7 5 40 4 25 2 3 1 16 1 28 2 3 4 22 1 9 2 34 1 4 4 24 4 30 3 3 1 18 5 8 3 4 4 28 1 16 3 7 2 3 1 5 2 8 1 17 2 25 1 1 2 38 4 10 1 17 3 7 2 18 2 24 2 34 1 10 2 1641"/>
<path d="M236.06 1133.82h1631.0" stroke="#4a6abd" stroke-width="35.66" stroke-dasharray="0 29 2 13 4 43 3 8 4 29 1 8 1 9 1 22 1 24 2 72 6 6 2 81 1 69 4 9 1 7 4 10 2 10 2 20 3 33 3 3 2 22 6 2 4 12 4 5 2 4 3 41 2 29 2 3 1 4 4 77 4 1 1 1 3 24 2 52 2 24 1 10 1 43 3 16 4 23 1 15 4 18 2 67 2 5 2 13 2 13 1 43 3 10 2 28 2 34 1 9 2 41 1 48 4 32 2 21 3 4 2 16 1 12 1 1 2 6 4 2 1 3 3 27 1 44 2 24 4 8 7 1641"/>
<path d="M236.06 1133.82h1631.0" stroke="#4970c0" stroke-width="35.66" stroke-dasharray="0 6 1 29 2 16 1 2 7 16 2 34 1 33 4 5 4 7 4 2 1 7 2 12 1 12 1 14 3 16 3 9 1 17 1 10 1 3 1 22 4 17 2 2 1 3 2 5 2 60 2 42 1 27 3 4 4 10 3 6 4 1 1 6 2 2 2 3 1 14 1 20 4 19 1 5 1 11 2 9 1 3 1 6 1 3 1 4 2 5 3 32 1 4 1 23 1 5 1 33 2 39 3 3 1 39 1 18 1 26 3 41 3 6 4 34 4 24 1 92 4 6 2 31 2 59 2 14 2 3 2 6 1 22 2 1 1 7 3 56 4 46 3 5 2 5 1 17 2 37 1 24 1 30 2 43 2 18 8 18 2 13 3 10 1 4 1 1641"/>
<path d="M236.06 1133.82h1631.0" stroke="#4876c3" stroke-width="35.66" stroke-dasharray="0 24 2 43 1 60 2 2 1 6 3 35 1 6 1 25 3 28 2 42 1 21 4 38 3 18 1 51 3 12 1 10 4 100 7 8 1 71 1 15 2 7 1 18 3 16 2 2 5 29 1 32 3 13 3 23 2 6 1 11 2 39 3 12 2 102 1 18 4 8 4 54 2 24 2 19 3 8 1 8 1 2 4 17 2 53 2 2 1 14 3 42 4 5 3 26 2 13 2 2 1 2 2 14 2 38 2 15 2 39 1 24 2 37 4 41 4 41 1 2 4 1641"/>
<path d="M236.06 1133.82h1631.0" stroke="#477bc6" stroke-width="35.66" stroke-dasharray="0 33 2 76 3 10 4 4 2 24 1 8 1 6 2 44 2 15 3 16 1 60 2 58 1 39 4 73 2 11 2 19 1 6 1 2 2 1 1 8 2 168 5 27 1 34 1 31 1 1 3 6 2 26 1 37 1 10 1 4 4 17 2 47 1 55 2 19 1 2 2 43 1 6 2 3 2 25 1 41 1 6 1 38 1 25 3 19 1 45 3 50 1 40 2 14 2 26 3 35 3 6 1 8 6 1641"/>
<path d="M236.06 1133.82h1631.0" stroke="#4582ca" stroke-width="35.66" stroke-dasharray="0 119 4 15 2 17 1 48 2 9 3 39 4 98 2 84 3 6 4 40 2 18 4 7 2 41 1 56 2 96 1 37 1 3 2 61 1 4 1 60 2 6 2 11 4 3 2 53 1 1 4 35 4 8 1 3 1 17 1 1 2 2 3 21 6 57 1 11 2 26 1 4 1 72 4 13 3 4 1 57 1 6 1 61 1 33 2 29 2 22 2 3 1 74 4 19 4 1641"/>
<path d="M236.06 1133.82h1631.0" stroke="#4289cf" stroke-width="35.66" stroke-dasharray="0 85 2 22 1 35 2 34 3 10 4 60 1 23 4 35 2 78 3 136 1 22 2 127 1 39 1 14 3 28 3 16 1 13 2 11 1 2 3 12 3 27 1 25 2 99 2 2 2 32 1 29 4 5 3 45 1 76 1 81 2 27 1 29 1 11 2 65 1 137 2 55 3 1641"/>
<path d="M236.06 1133.82h1631.0" stroke="#3f91d3" stroke-width="35.66" stroke-dasharray="0 31 2 6 4 27 2 12 1 51 2 91 2 3 1 330 4 29 1 5 1 193 2 13 2 11 1 5 2 13 4 3 2 70 2 92 4 33 1 122 1 39 1 14 1 42 2 5 1 45 2 11 4 44 4 18 1 26 4 5 4 84 3 5 1 1641"/>
<path d="M236.06 1133.82h1631.0" stroke="#3999d6" stroke-width="35.66" stroke-dasharray="0 35 1 195 3 6 1 61 3 388 2 106 2 38 1 318 2 75 4 15 1 33 3 40 1 1641"/>
<path d="M236.06 1133.82h1631.0" stroke="#2fa1d7" stroke-width="35.66" stroke-dasharray="0 108 1 54 4 68 2 36 2 131 1 112 1 315 2 8 2 34 2 188 4 242 1 18 2 66 3 91 3 77 1 1641"/>
<path d="M236.06 1133.82h1631.0" stroke="#25a9d7" stroke-width="35.66" stroke-dasharray="0 147 3 102 4 12 5 530 4 174 1 2 1 304 1 329 2 1641"/>
<path d="M236.06 1133.82h1631.0" stroke="#1baecf" stroke-width="35.66" stroke-dasharray="0 43 1 111 2 270 3 619 2 1641"/>
<path d="M236.06 1133.82h1631.0" stroke="#1fb2c1" stroke-width="35.66" stroke-dasharray="0 38 1 89 2 57 5 628 1 211 2 214 3 1641"/>
<path d="M236.06 1133.82h1631.0" stroke="#9cc066" stroke-width="35.66" stroke-dasharray="0 621 1 557 1 218 1 1641"/></g>
<text font-size="52.3" fill="#ffffff" transform="translate(279,780) scale(1,1.04)">Simulated and resampled data</text>
<path d="M236.06 709.5h17M1867.1 709.5h-17M236.06 744.8h17M1867.1 744.8h-17M236.06 780.2h17M1867.1 780.2h-17M236.06 815.6h17M1867.1 815.6h-17M236.06 850.9h17M1867.1 850.9h-17M236.06 886.3h17M1867.1 886.3h-17M236.06 921.6h17M1867.1 921.6h-17M236.06 957.0h17M1867.1 957.0h-17M236.06 992.4h17M1867.1 992.4h-17M236.06 1027.7h17M1867.1 1027.7h-17M236.06 1063.1h17M1867.1 1063.1h-17M236.06 1098.5h17M1867.1 1098.5h-17M236.06 1133.8h17M1867.1 1133.8h-17M399.1 1151.5v-17M399.1 691.8v17M562.2 1151.5v-17M562.2 691.8v17M725.3 1151.5v-17M725.3 691.8v17M888.4 1151.5v-17M888.4 691.8v17M1051.5 1151.5v-17M1051.5 691.8v17M1214.5 1151.5v-17M1214.5 691.8v17M1377.6 1151.5v-17M1377.6 691.8v17M1540.7 1151.5v-17M1540.7 691.8v17M1703.8 1151.5v-17M1703.8 691.8v17M1866.9 1151.5v-17M1866.9 691.8v17" stroke="#434345" stroke-width="2.5" fill="none"/>
<rect x="236.06" y="691.8" width="1631.0" height="459.7" fill="none" stroke="#434345" stroke-width="2.5"/>
<text font-size="32.8" fill="#4a4a4a" text-anchor="end" transform="translate(206.5,718.5) scale(1,1.05)">LSv</text>
<text font-size="32.8" fill="#4a4a4a" text-anchor="end" transform="translate(219,753.8) scale(1,1.05)">BNSTp</text>
<text font-size="32.8" fill="#4a4a4a" text-anchor="end" transform="translate(211.6,789.2) scale(1,1.05)">MPN</text>
<text font-size="32.8" fill="#4a4a4a" text-anchor="end" transform="translate(207.4,824.6) scale(1,1.05)">AHN</text>
<text font-size="32.8" fill="#4a4a4a" text-anchor="end" transform="translate(213.4,859.9) scale(1,1.05)">VMHvl</text>
<text font-size="32.8" fill="#4a4a4a" text-anchor="end" transform="translate(209.5,895.3) scale(1,1.05)">DMH</text>
<text font-size="32.8" fill="#4a4a4a" text-anchor="end" transform="translate(208.6,930.6) scale(1,1.05)">PMv</text>
<text font-size="32.8" fill="#4a4a4a" text-anchor="end" transform="translate(213.4,966.0) scale(1,1.05)">MeAa</text>
<text font-size="32.8" fill="#4a4a4a" text-anchor="end" transform="translate(211.6,1001.4) scale(1,1.05)">MeAp</text>
<text font-size="32.8" fill="#4a4a4a" text-anchor="end" transform="translate(205,1036.7) scale(1,1.05)">PA</text>
<text font-size="32.8" fill="#4a4a4a" text-anchor="end" transform="translate(213,1072.1) scale(1,1.05)">CoAp</text>
<text font-size="32.8" fill="#4a4a4a" text-anchor="end" transform="translate(212,1107.5) scale(1,1.05)">SUBv</text>
<text font-size="32.8" fill="#4a4a4a" text-anchor="end" transform="translate(211.6,1142.8) scale(1,1.05)">IPAG</text>
<text font-size="33.5" fill="#4a4a4a" text-anchor="middle" transform="translate(403.1,1185.2) scale(1,1.05)">200</text>
<text font-size="33.5" fill="#4a4a4a" text-anchor="middle" transform="translate(566.2,1185.2) scale(1,1.05)">400</text>
<text font-size="33.5" fill="#4a4a4a" text-anchor="middle" transform="translate(729.3,1185.2) scale(1,1.05)">600</text>
<text font-size="33.5" fill="#4a4a4a" text-anchor="middle" transform="translate(892.4,1185.2) scale(1,1.05)">800</text>
<text font-size="33.5" fill="#4a4a4a" text-anchor="middle" transform="translate(1055.5,1185.2) scale(1,1.05)">1000</text>
<text font-size="33.5" fill="#4a4a4a" text-anchor="middle" transform="translate(1218.5,1185.2) scale(1,1.05)">1200</text>
<text font-size="33.5" fill="#4a4a4a" text-anchor="middle" transform="translate(1381.6,1185.2) scale(1,1.05)">1400</text>
<text font-size="33.5" fill="#4a4a4a" text-anchor="middle" transform="translate(1544.7,1185.2) scale(1,1.05)">1600</text>
<text font-size="33.5" fill="#4a4a4a" text-anchor="middle" transform="translate(1707.8,1185.2) scale(1,1.05)">1800</text>
<text font-size="33.5" fill="#4a4a4a" text-anchor="middle" transform="translate(1870.9,1185.2) scale(1,1.05)">2000</text>
<text font-size="42.3" fill="#231f20" text-anchor="start" transform="translate(997,1246) scale(1,1.05)">Time bin</text>
<rect x="213.5" y="1438.2" width="58.6" height="284.2" fill="#1072bc" stroke="#231f20" stroke-width="2.4"/>
<rect x="287.0" y="1416.2" width="58.6" height="306.2" fill="#1072bc" stroke="#231f20" stroke-width="2.4"/>
<rect x="360.6" y="1393.2" width="58.6" height="329.2" fill="#1072bc" stroke="#231f20" stroke-width="2.4"/>
<rect x="434.1" y="1430.2" width="58.6" height="292.2" fill="#1072bc" stroke="#231f20" stroke-width="2.4"/>
<rect x="507.7" y="1411.8" width="58.6" height="310.6" fill="#1072bc" stroke="#231f20" stroke-width="2.4"/>
<rect x="581.2" y="1398.4" width="58.6" height="324.0" fill="#1072bc" stroke="#231f20" stroke-width="2.4"/>
<path d="M242.8 1301.9V1574.8M316.3 1352.8V1480.0M389.9 1387.0V1399.4M463.4 1335.0V1525.1M537.0 1346.8V1476.7M610.5 1371.4V1425.4" stroke="#231f20" stroke-width="4.8" fill="none"/>
<path d="M237.7 1303.2h10.2M237.7 1573.5h10.2M311.2 1354.1h10.2M311.2 1478.7h10.2M384.8 1388.3h10.2M384.8 1398.1h10.2M458.3 1336.3h10.2M458.3 1523.8h10.2M531.9 1348.1h10.2M531.9 1475.4h10.2M605.4 1372.7h10.2M605.4 1424.1h10.2" stroke="#231f20" stroke-width="2.6" fill="none"/>
<path d="M242.8 1722.4v-6.5M242.8 1292.8v6.5M316.3 1722.4v-6.5M316.3 1292.8v6.5M389.9 1722.4v-6.5M389.9 1292.8v6.5M463.4 1722.4v-6.5M463.4 1292.8v6.5M537.0 1722.4v-6.5M537.0 1292.8v6.5M610.5 1722.4v-6.5M610.5 1292.8v6.5M154.8 1292.8h6.5M698.6 1292.8h-6.5M154.8 1378.8h6.5M698.6 1378.8h-6.5M154.8 1464.7h6.5M698.6 1464.7h-6.5M154.8 1550.6h6.5M698.6 1550.6h-6.5M154.8 1636.5h6.5M698.6 1636.5h-6.5M154.8 1722.4h6.5M698.6 1722.4h-6.5" stroke="#434345" stroke-width="2.2" fill="none"/>
<rect x="154.85" y="1292.85" width="543.75" height="429.55" fill="none" stroke="#434345" stroke-width="2.5"/>
<text font-size="28.3" fill="#4a4a4a" text-anchor="end" transform="translate(145.9,1299.4) scale(1,1.05)">1.05</text>
<text font-size="28.3" fill="#4a4a4a" text-anchor="end" transform="translate(140.4,1385.4) scale(1,1.05)">1</text>
<text font-size="28.3" fill="#4a4a4a" text-anchor="end" transform="translate(145.9,1471.3) scale(1,1.05)">0.95</text>
<text font-size="28.3" fill="#4a4a4a" text-anchor="end" transform="translate(145.9,1557.2) scale(1,1.05)">0.9</text>
<text font-size="28.3" fill="#4a4a4a" text-anchor="end" transform="translate(145.9,1643.1) scale(1,1.05)">0.85</text>
<text font-size="28.3" fill="#4a4a4a" text-anchor="end" transform="translate(145.9,1729.0) scale(1,1.05)">0.8</text>
<text font-size="28" fill="#4a4a4a" text-anchor="middle" transform="translate(240.8,1755.8) scale(1,1.05)">5</text>
<text font-size="28" fill="#4a4a4a" text-anchor="middle" transform="translate(314.7,1755.8) scale(1,1.05)">7</text>
<text font-size="28" fill="#4a4a4a" text-anchor="middle" transform="translate(388.0,1755.8) scale(1,1.05)">9</text>
<text font-size="28" fill="#4a4a4a" text-anchor="middle" transform="translate(462.9,1755.8) scale(1,1.05)">11</text>
<text font-size="28" fill="#4a4a4a" text-anchor="middle" transform="translate(538.0,1755.8) scale(1,1.05)">13</text>
<text font-size="28" fill="#4a4a4a" text-anchor="middle" transform="translate(611.7,1755.8) scale(1,1.05)">15</text>
<text font-size="42.8" fill="#231f20" text-anchor="start" transform="translate(214,1805.8) scale(1,1.05)">Poisson hyperparameter</text>
<rect x="855.0" y="1399.0" width="67.6" height="324.5" fill="#1072bc" stroke="#231f20" stroke-width="2.4"/>
<rect x="940.0" y="1439.3" width="67.6" height="284.2" fill="#1072bc" stroke="#231f20" stroke-width="2.4"/>
<rect x="1025.0" y="1423.2" width="67.6" height="300.3" fill="#1072bc" stroke="#231f20" stroke-width="2.4"/>
<rect x="1110.0" y="1416.2" width="67.6" height="307.3" fill="#1072bc" stroke="#231f20" stroke-width="2.4"/>
<rect x="1195.0" y="1397.5" width="67.6" height="326.0" fill="#1072bc" stroke="#231f20" stroke-width="2.4"/>
<path d="M888.8 1393.9V1404.4M973.8 1303.2V1574.4M1058.8 1338.8V1506.0M1143.8 1348.3V1483.7M1228.8 1393.9V1400.4" stroke="#231f20" stroke-width="4.8" fill="none"/>
<path d="M883.7 1395.2h10.2M883.7 1403.1h10.2M968.7 1304.5h10.2M968.7 1573.1h10.2M1053.7 1340.1h10.2M1053.7 1504.7h10.2M1138.7 1349.6h10.2M1138.7 1482.4h10.2M1223.7 1395.2h10.2M1223.7 1399.1h10.2" stroke="#231f20" stroke-width="2.6" fill="none"/>
<path d="M888.8 1723.5v-6.5M888.8 1293.9v6.5M973.8 1723.5v-6.5M973.8 1293.9v6.5M1058.8 1723.5v-6.5M1058.8 1293.9v6.5M1143.8 1723.5v-6.5M1143.8 1293.9v6.5M1228.8 1723.5v-6.5M1228.8 1293.9v6.5M786.8 1293.9h6.5M1330.8 1293.9h-6.5M786.8 1379.8h6.5M1330.8 1379.8h-6.5M786.8 1465.7h6.5M1330.8 1465.7h-6.5M786.8 1551.7h6.5M1330.8 1551.7h-6.5M786.8 1637.6h6.5M1330.8 1637.6h-6.5M786.8 1723.5h6.5M1330.8 1723.5h-6.5" stroke="#434345" stroke-width="2.2" fill="none"/>
<rect x="786.8" y="1293.9" width="543.95" height="429.60" fill="none" stroke="#434345" stroke-width="2.5"/>
<text font-size="28.3" fill="#4a4a4a" text-anchor="end" transform="translate(779,1300.5) scale(1,1.05)">1.05</text>
<text font-size="28.3" fill="#4a4a4a" text-anchor="end" transform="translate(773.5,1386.4) scale(1,1.05)">1</text>
<text font-size="28.3" fill="#4a4a4a" text-anchor="end" transform="translate(779,1472.3) scale(1,1.05)">0.95</text>
<text font-size="28.3" fill="#4a4a4a" text-anchor="end" transform="translate(779,1558.3) scale(1,1.05)">0.9</text>
<text font-size="28.3" fill="#4a4a4a" text-anchor="end" transform="translate(779,1644.2) scale(1,1.05)">0.85</text>
<text font-size="28.3" fill="#4a4a4a" text-anchor="end" transform="translate(779,1730.1) scale(1,1.05)">0.8</text>
<text font-size="28" fill="#4a4a4a" text-anchor="middle" transform="translate(885.5,1764.8) scale(1,1.05)">1000</text>
<text font-size="28" fill="#4a4a4a" text-anchor="middle" transform="translate(971.0,1764.8) scale(1,1.05)">2000</text>
<text font-size="28" fill="#4a4a4a" text-anchor="middle" transform="translate(1065.5,1764.8) scale(1,1.05)">3000</text>
<text font-size="28" fill="#4a4a4a" text-anchor="middle" transform="translate(1147.5,1764.8) scale(1,1.05)">4000</text>
<text font-size="28" fill="#4a4a4a" text-anchor="middle" transform="translate(1236.0,1764.8) scale(1,1.05)">5000</text>
<text font-size="42.8" fill="#231f20" text-anchor="start" transform="translate(946.8,1815.3) scale(1,1.05)">Sample size</text>
<rect x="1504.6" y="1439.7" width="58.6" height="284.5" fill="#1072bc" stroke="#231f20" stroke-width="2.4"/>
<rect x="1578.1" y="1428.9" width="58.6" height="295.2" fill="#1072bc" stroke="#231f20" stroke-width="2.4"/>
<rect x="1651.7" y="1417.4" width="58.6" height="306.8" fill="#1072bc" stroke="#231f20" stroke-width="2.4"/>
<rect x="1725.2" y="1411.1" width="58.6" height="313.1" fill="#1072bc" stroke="#231f20" stroke-width="2.4"/>
<rect x="1798.8" y="1413.8" width="58.6" height="310.4" fill="#1072bc" stroke="#231f20" stroke-width="2.4"/>
<rect x="1872.3" y="1423.3" width="58.6" height="300.9" fill="#1072bc" stroke="#231f20" stroke-width="2.4"/>
<path d="M1533.9 1303.5V1575.0M1607.4 1347.4V1509.4M1681.0 1391.3V1442.6M1754.5 1402.5V1418.7M1828.1 1404.3V1422.8M1901.6 1407.5V1438.1" stroke="#231f20" stroke-width="4.8" fill="none"/>
<path d="M1528.8 1304.8h10.2M1528.8 1573.7h10.2M1602.3 1348.7h10.2M1602.3 1508.1h10.2M1675.9 1392.6h10.2M1675.9 1441.3h10.2M1749.4 1403.8h10.2M1749.4 1417.4h10.2M1823.0 1405.6h10.2M1823.0 1421.5h10.2M1896.5 1408.8h10.2M1896.5 1436.8h10.2" stroke="#231f20" stroke-width="2.6" fill="none"/>
<path d="M1533.9 1724.2v-6.5M1533.9 1294.5v6.5M1607.4 1724.2v-6.5M1607.4 1294.5v6.5M1681.0 1724.2v-6.5M1681.0 1294.5v6.5M1754.5 1724.2v-6.5M1754.5 1294.5v6.5M1828.1 1724.2v-6.5M1828.1 1294.5v6.5M1901.6 1724.2v-6.5M1901.6 1294.5v6.5M1445.8 1294.5h6.5M1989.7 1294.5h-6.5M1445.8 1380.4h6.5M1989.7 1380.4h-6.5M1445.8 1466.4h6.5M1989.7 1466.4h-6.5M1445.8 1552.3h6.5M1989.7 1552.3h-6.5M1445.8 1638.2h6.5M1989.7 1638.2h-6.5M1445.8 1724.2h6.5M1989.7 1724.2h-6.5" stroke="#434345" stroke-width="2.2" fill="none"/>
<rect x="1445.75" y="1294.5" width="543.90" height="429.65" fill="none" stroke="#434345" stroke-width="2.5"/>
<text font-size="28.3" fill="#4a4a4a" text-anchor="end" transform="translate(1428.4,1301.1) scale(1,1.05)">1.05</text>
<text font-size="28.3" fill="#4a4a4a" text-anchor="end" transform="translate(1422.9,1387.0) scale(1,1.05)">1</text>
<text font-size="28.3" fill="#4a4a4a" text-anchor="end" transform="translate(1428.4,1473.0) scale(1,1.05)">0.95</text>
<text font-size="28.3" fill="#4a4a4a" text-anchor="end" transform="translate(1428.4,1558.9) scale(1,1.05)">0.9</text>
<text font-size="28.3" fill="#4a4a4a" text-anchor="end" transform="translate(1428.4,1644.8) scale(1,1.05)">0.85</text>
<text font-size="28.3" fill="#4a4a4a" text-anchor="end" transform="translate(1428.4,1730.8) scale(1,1.05)">0.8</text>
<text font-size="28" fill="#4a4a4a" text-anchor="middle" transform="translate(1550.0,1760.9) scale(1,1.05)">Inf</text>
<text font-size="28" fill="#4a4a4a" text-anchor="middle" transform="translate(1611.7,1760.9) scale(1,1.05)">15</text>
<text font-size="28" fill="#4a4a4a" text-anchor="middle" transform="translate(1687.5,1760.9) scale(1,1.05)">12</text>
<text font-size="28" fill="#4a4a4a" text-anchor="middle" transform="translate(1763.5,1760.9) scale(1,1.05)">10</text>
<text font-size="28" fill="#4a4a4a" text-anchor="middle" transform="translate(1833.4,1760.9) scale(1,1.05)">9</text>
<text font-size="28" fill="#4a4a4a" text-anchor="middle" transform="translate(1899.7,1760.9) scale(1,1.05)">8</text>
<text font-size="42.8" fill="#231f20" text-anchor="start" transform="translate(1618,1810.3) scale(1,1.05)">SNR (dB)</text>
<text font-size="44" fill="#231f20" transform="translate(80,1570.5) rotate(-90) scale(1,1.08)">WCP</text>
</svg>
</body></html>
